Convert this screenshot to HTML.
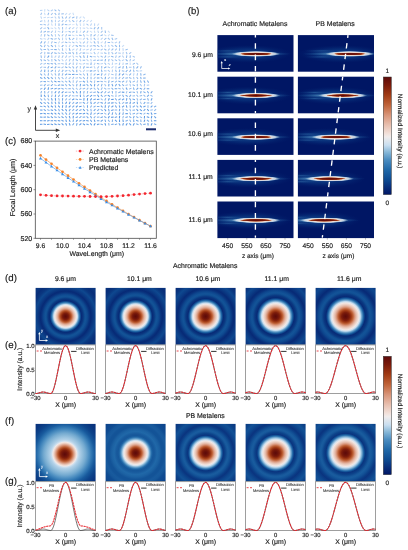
<!DOCTYPE html>
<html><head><meta charset="utf-8"><style>
html,body{margin:0;padding:0;background:#fff;}
svg{display:block;}
text{font-family:"Liberation Sans", Arial, sans-serif;text-rendering:geometricPrecision;}
</style></head><body>
<svg width="408" height="550" viewBox="0 0 408 550">
<defs><radialGradient id="spot" cx="0.5" cy="0.5" r="0.5"><stop offset="0" stop-color="#5c0a0a"/><stop offset="0.5" stop-color="#71150a"/><stop offset="0.78" stop-color="#9a3512"/><stop offset="0.92" stop-color="#c67049" stop-opacity="0.8"/><stop offset="1.0" stop-color="#dda289" stop-opacity="0"/></radialGradient><radialGradient id="halo" cx="0.5" cy="0.5" r="0.5"><stop offset="0" stop-color="#e6bbaa"/><stop offset="0.55" stop-color="#f1e0d9"/><stop offset="0.8" stop-color="#d9e4ee" stop-opacity="0.85"/><stop offset="1.0" stop-color="#9cc4df" stop-opacity="0"/></radialGradient><radialGradient id="tail" cx="0.5" cy="0.5" r="0.5"><stop offset="0" stop-color="#c8def0"/><stop offset="0.5" stop-color="#4f90c2" stop-opacity="0.6"/><stop offset="1" stop-color="#135397" stop-opacity="0"/></radialGradient><radialGradient id="glow" cx="0.5" cy="0.5" r="0.5"><stop offset="0" stop-color="#256cab" stop-opacity="0.7"/><stop offset="0.6" stop-color="#0e488f" stop-opacity="0.35"/><stop offset="1" stop-color="#072a76" stop-opacity="0"/></radialGradient><radialGradient id="streak" cx="0.5" cy="0.5" r="0.5"><stop offset="0" stop-color="#4386bc" stop-opacity="0.8"/><stop offset="1" stop-color="#0c3f88" stop-opacity="0"/></radialGradient><linearGradient id="cbar" x1="0" y1="0" x2="0" y2="1"><stop offset="0.000" stop-color="#5c0a0a"/><stop offset="0.070" stop-color="#7a1a0a"/><stop offset="0.153" stop-color="#a03a14"/><stop offset="0.240" stop-color="#c0643a"/><stop offset="0.323" stop-color="#d89478"/><stop offset="0.410" stop-color="#e8c0b0"/><stop offset="0.485" stop-color="#f2e2dc"/><stop offset="0.510" stop-color="#f0ecec"/><stop offset="0.580" stop-color="#c8def0"/><stop offset="0.638" stop-color="#88b8d8"/><stop offset="0.706" stop-color="#4a8cc0"/><stop offset="0.790" stop-color="#2068a8"/><stop offset="0.876" stop-color="#0e4a90"/><stop offset="0.944" stop-color="#082c78"/><stop offset="1.000" stop-color="#001664"/></linearGradient><radialGradient id="gd0" gradientUnits="userSpaceOnUse" cx="65.60" cy="316.40" r="44.00"><stop offset="0.0000" stop-color="#5c0a0a"/><stop offset="0.0455" stop-color="#6d130a"/><stop offset="0.0750" stop-color="#7f1e0b"/><stop offset="0.1091" stop-color="#a33d17"/><stop offset="0.1386" stop-color="#c0643a"/><stop offset="0.1659" stop-color="#d79276"/><stop offset="0.1909" stop-color="#e4b6a3"/><stop offset="0.2182" stop-color="#edd2c7"/><stop offset="0.2455" stop-color="#f1e8e6"/><stop offset="0.2705" stop-color="#c8def0"/><stop offset="0.2977" stop-color="#629dc9"/><stop offset="0.3250" stop-color="#1e65a5"/><stop offset="0.3432" stop-color="#0d448b"/><stop offset="0.3591" stop-color="#072a76"/><stop offset="0.3977" stop-color="#0a3780"/><stop offset="0.4386" stop-color="#115094"/><stop offset="0.4614" stop-color="#135397"/><stop offset="0.5000" stop-color="#0e488f"/><stop offset="0.5455" stop-color="#09327d"/><stop offset="0.5750" stop-color="#072a76"/><stop offset="0.6364" stop-color="#0b3b84"/><stop offset="0.6932" stop-color="#0e488f"/><stop offset="0.7500" stop-color="#0a3780"/><stop offset="0.8182" stop-color="#082e79"/><stop offset="0.8864" stop-color="#0a3780"/><stop offset="0.9545" stop-color="#09327d"/><stop offset="1" stop-color="#09327d"/></radialGradient><radialGradient id="gf0" gradientUnits="userSpaceOnUse" cx="64.80" cy="454.15" r="44.00"><stop offset="0.0000" stop-color="#5c0a0a"/><stop offset="0.0523" stop-color="#6d130a"/><stop offset="0.0909" stop-color="#7f1e0b"/><stop offset="0.1295" stop-color="#9f3914"/><stop offset="0.1636" stop-color="#bc5f36"/><stop offset="0.1955" stop-color="#d48c6e"/><stop offset="0.2227" stop-color="#e2b19d"/><stop offset="0.2477" stop-color="#edd2c7"/><stop offset="0.2727" stop-color="#f1e8e6"/><stop offset="0.2955" stop-color="#cee0ef"/><stop offset="0.3295" stop-color="#b2d1e8"/><stop offset="0.4091" stop-color="#91bddb"/><stop offset="0.4773" stop-color="#74aad0"/><stop offset="0.5455" stop-color="#4f90c2"/><stop offset="0.6136" stop-color="#2f75b1"/><stop offset="0.6818" stop-color="#185a9d"/><stop offset="0.7727" stop-color="#0d448b"/><stop offset="0.8636" stop-color="#0a3780"/><stop offset="0.9545" stop-color="#09327d"/><stop offset="1" stop-color="#09327d"/></radialGradient><radialGradient id="gd1" gradientUnits="userSpaceOnUse" cx="135.60" cy="316.40" r="46.65"><stop offset="0.0000" stop-color="#5c0a0a"/><stop offset="0.0455" stop-color="#6d130a"/><stop offset="0.0750" stop-color="#7f1e0b"/><stop offset="0.1091" stop-color="#a33d17"/><stop offset="0.1386" stop-color="#c0643a"/><stop offset="0.1659" stop-color="#d79276"/><stop offset="0.1909" stop-color="#e4b6a3"/><stop offset="0.2182" stop-color="#edd2c7"/><stop offset="0.2455" stop-color="#f1e8e6"/><stop offset="0.2705" stop-color="#c8def0"/><stop offset="0.2977" stop-color="#629dc9"/><stop offset="0.3250" stop-color="#1e65a5"/><stop offset="0.3432" stop-color="#0d448b"/><stop offset="0.3591" stop-color="#072a76"/><stop offset="0.3977" stop-color="#0a3780"/><stop offset="0.4386" stop-color="#115094"/><stop offset="0.4614" stop-color="#135397"/><stop offset="0.5000" stop-color="#0e488f"/><stop offset="0.5455" stop-color="#09327d"/><stop offset="0.5750" stop-color="#072a76"/><stop offset="0.6364" stop-color="#0b3b84"/><stop offset="0.6932" stop-color="#0e488f"/><stop offset="0.7500" stop-color="#0a3780"/><stop offset="0.8182" stop-color="#082e79"/><stop offset="0.8864" stop-color="#0a3780"/><stop offset="0.9545" stop-color="#09327d"/><stop offset="1" stop-color="#09327d"/></radialGradient><radialGradient id="gf1" gradientUnits="userSpaceOnUse" cx="135.60" cy="453.05" r="46.65"><stop offset="0.0000" stop-color="#5c0a0a"/><stop offset="0.0455" stop-color="#6d130a"/><stop offset="0.0750" stop-color="#7f1e0b"/><stop offset="0.1091" stop-color="#a33d17"/><stop offset="0.1386" stop-color="#c0643a"/><stop offset="0.1659" stop-color="#d79276"/><stop offset="0.1909" stop-color="#e4b6a3"/><stop offset="0.2182" stop-color="#edd2c7"/><stop offset="0.2455" stop-color="#f1e8e6"/><stop offset="0.2705" stop-color="#cee0ef"/><stop offset="0.2977" stop-color="#7db0d4"/><stop offset="0.3250" stop-color="#3e82b9"/><stop offset="0.3477" stop-color="#1e65a5"/><stop offset="0.3750" stop-color="#16579a"/><stop offset="0.4091" stop-color="#185a9d"/><stop offset="0.4614" stop-color="#2068a8"/><stop offset="0.5114" stop-color="#1c61a2"/><stop offset="0.5682" stop-color="#135397"/><stop offset="0.6136" stop-color="#135397"/><stop offset="0.6591" stop-color="#185a9d"/><stop offset="0.7045" stop-color="#16579a"/><stop offset="0.7500" stop-color="#0f4c92"/><stop offset="0.8182" stop-color="#0e488f"/><stop offset="0.8864" stop-color="#0d448b"/><stop offset="0.9545" stop-color="#0d448b"/><stop offset="1" stop-color="#0d448b"/></radialGradient><radialGradient id="gd2" gradientUnits="userSpaceOnUse" cx="205.60" cy="316.40" r="49.31"><stop offset="0.0000" stop-color="#5c0a0a"/><stop offset="0.0455" stop-color="#6d130a"/><stop offset="0.0750" stop-color="#7f1e0b"/><stop offset="0.1091" stop-color="#a33d17"/><stop offset="0.1386" stop-color="#c0643a"/><stop offset="0.1659" stop-color="#d79276"/><stop offset="0.1909" stop-color="#e4b6a3"/><stop offset="0.2182" stop-color="#edd2c7"/><stop offset="0.2455" stop-color="#f1e8e6"/><stop offset="0.2705" stop-color="#c8def0"/><stop offset="0.2977" stop-color="#629dc9"/><stop offset="0.3250" stop-color="#1e65a5"/><stop offset="0.3432" stop-color="#0d448b"/><stop offset="0.3591" stop-color="#072a76"/><stop offset="0.3977" stop-color="#0a3780"/><stop offset="0.4386" stop-color="#115094"/><stop offset="0.4614" stop-color="#135397"/><stop offset="0.5000" stop-color="#0e488f"/><stop offset="0.5455" stop-color="#09327d"/><stop offset="0.5750" stop-color="#072a76"/><stop offset="0.6364" stop-color="#0b3b84"/><stop offset="0.6932" stop-color="#0e488f"/><stop offset="0.7500" stop-color="#0a3780"/><stop offset="0.8182" stop-color="#082e79"/><stop offset="0.8864" stop-color="#0a3780"/><stop offset="0.9545" stop-color="#09327d"/><stop offset="1" stop-color="#09327d"/></radialGradient><radialGradient id="gf2" gradientUnits="userSpaceOnUse" cx="205.60" cy="453.05" r="49.31"><stop offset="0.0000" stop-color="#5c0a0a"/><stop offset="0.0455" stop-color="#6d130a"/><stop offset="0.0750" stop-color="#7f1e0b"/><stop offset="0.1091" stop-color="#a33d17"/><stop offset="0.1386" stop-color="#c0643a"/><stop offset="0.1659" stop-color="#d79276"/><stop offset="0.1909" stop-color="#e4b6a3"/><stop offset="0.2182" stop-color="#edd2c7"/><stop offset="0.2455" stop-color="#f1e8e6"/><stop offset="0.2705" stop-color="#c8def0"/><stop offset="0.2977" stop-color="#79add2"/><stop offset="0.3250" stop-color="#286eac"/><stop offset="0.3432" stop-color="#104e93"/><stop offset="0.3591" stop-color="#0a347f"/><stop offset="0.3977" stop-color="#0c4289"/><stop offset="0.4386" stop-color="#17589b"/><stop offset="0.4614" stop-color="#195c9e"/><stop offset="0.5000" stop-color="#125196"/><stop offset="0.5455" stop-color="#0b3d86"/><stop offset="0.5750" stop-color="#0a347f"/><stop offset="0.6364" stop-color="#0d468d"/><stop offset="0.6932" stop-color="#125196"/><stop offset="0.7500" stop-color="#0c4289"/><stop offset="0.8182" stop-color="#0b3982"/><stop offset="0.8864" stop-color="#0c4289"/><stop offset="0.9545" stop-color="#0b3d86"/><stop offset="1" stop-color="#0b3d86"/></radialGradient><radialGradient id="gd3" gradientUnits="userSpaceOnUse" cx="275.60" cy="316.40" r="52.00"><stop offset="0.0000" stop-color="#5c0a0a"/><stop offset="0.0455" stop-color="#6d130a"/><stop offset="0.0750" stop-color="#7f1e0b"/><stop offset="0.1091" stop-color="#a33d17"/><stop offset="0.1386" stop-color="#c0643a"/><stop offset="0.1659" stop-color="#d79276"/><stop offset="0.1909" stop-color="#e4b6a3"/><stop offset="0.2182" stop-color="#edd2c7"/><stop offset="0.2455" stop-color="#f1e8e6"/><stop offset="0.2705" stop-color="#c8def0"/><stop offset="0.2977" stop-color="#629dc9"/><stop offset="0.3250" stop-color="#1e65a5"/><stop offset="0.3432" stop-color="#0d448b"/><stop offset="0.3591" stop-color="#072a76"/><stop offset="0.3977" stop-color="#0a3780"/><stop offset="0.4386" stop-color="#115094"/><stop offset="0.4614" stop-color="#135397"/><stop offset="0.5000" stop-color="#0e488f"/><stop offset="0.5455" stop-color="#09327d"/><stop offset="0.5750" stop-color="#072a76"/><stop offset="0.6364" stop-color="#0b3b84"/><stop offset="0.6932" stop-color="#0e488f"/><stop offset="0.7500" stop-color="#0a3780"/><stop offset="0.8182" stop-color="#082e79"/><stop offset="0.8864" stop-color="#0a3780"/><stop offset="0.9545" stop-color="#09327d"/><stop offset="1" stop-color="#09327d"/></radialGradient><radialGradient id="gf3" gradientUnits="userSpaceOnUse" cx="275.60" cy="453.05" r="52.00"><stop offset="0.0000" stop-color="#5c0a0a"/><stop offset="0.0455" stop-color="#6d130a"/><stop offset="0.0750" stop-color="#7f1e0b"/><stop offset="0.1091" stop-color="#a33d17"/><stop offset="0.1386" stop-color="#c0643a"/><stop offset="0.1659" stop-color="#d79276"/><stop offset="0.1909" stop-color="#e4b6a3"/><stop offset="0.2182" stop-color="#edd2c7"/><stop offset="0.2455" stop-color="#f1e8e6"/><stop offset="0.2705" stop-color="#c8def0"/><stop offset="0.2977" stop-color="#79add2"/><stop offset="0.3250" stop-color="#286eac"/><stop offset="0.3432" stop-color="#104e93"/><stop offset="0.3591" stop-color="#0a347f"/><stop offset="0.3977" stop-color="#0c4289"/><stop offset="0.4386" stop-color="#17589b"/><stop offset="0.4614" stop-color="#195c9e"/><stop offset="0.5000" stop-color="#125196"/><stop offset="0.5455" stop-color="#0b3d86"/><stop offset="0.5750" stop-color="#0a347f"/><stop offset="0.6364" stop-color="#0d468d"/><stop offset="0.6932" stop-color="#125196"/><stop offset="0.7500" stop-color="#0c4289"/><stop offset="0.8182" stop-color="#0b3982"/><stop offset="0.8864" stop-color="#0c4289"/><stop offset="0.9545" stop-color="#0b3d86"/><stop offset="1" stop-color="#0b3d86"/></radialGradient><radialGradient id="gd4" gradientUnits="userSpaceOnUse" cx="345.60" cy="316.40" r="54.70"><stop offset="0.0000" stop-color="#5c0a0a"/><stop offset="0.0455" stop-color="#6d130a"/><stop offset="0.0750" stop-color="#7f1e0b"/><stop offset="0.1091" stop-color="#a33d17"/><stop offset="0.1386" stop-color="#c0643a"/><stop offset="0.1659" stop-color="#d79276"/><stop offset="0.1909" stop-color="#e4b6a3"/><stop offset="0.2182" stop-color="#edd2c7"/><stop offset="0.2455" stop-color="#f1e8e6"/><stop offset="0.2705" stop-color="#c8def0"/><stop offset="0.2977" stop-color="#629dc9"/><stop offset="0.3250" stop-color="#1e65a5"/><stop offset="0.3432" stop-color="#0d448b"/><stop offset="0.3591" stop-color="#072a76"/><stop offset="0.3977" stop-color="#0a3780"/><stop offset="0.4386" stop-color="#115094"/><stop offset="0.4614" stop-color="#135397"/><stop offset="0.5000" stop-color="#0e488f"/><stop offset="0.5455" stop-color="#09327d"/><stop offset="0.5750" stop-color="#072a76"/><stop offset="0.6364" stop-color="#0b3b84"/><stop offset="0.6932" stop-color="#0e488f"/><stop offset="0.7500" stop-color="#0a3780"/><stop offset="0.8182" stop-color="#082e79"/><stop offset="0.8864" stop-color="#0a3780"/><stop offset="0.9545" stop-color="#09327d"/><stop offset="1" stop-color="#09327d"/></radialGradient><radialGradient id="gf4" gradientUnits="userSpaceOnUse" cx="345.60" cy="453.05" r="54.70"><stop offset="0.0000" stop-color="#5c0a0a"/><stop offset="0.0455" stop-color="#6d130a"/><stop offset="0.0750" stop-color="#7f1e0b"/><stop offset="0.1091" stop-color="#a33d17"/><stop offset="0.1386" stop-color="#c0643a"/><stop offset="0.1659" stop-color="#d79276"/><stop offset="0.1909" stop-color="#e4b6a3"/><stop offset="0.2182" stop-color="#edd2c7"/><stop offset="0.2455" stop-color="#f1e8e6"/><stop offset="0.2705" stop-color="#c8def0"/><stop offset="0.2977" stop-color="#79add2"/><stop offset="0.3250" stop-color="#286eac"/><stop offset="0.3432" stop-color="#104e93"/><stop offset="0.3591" stop-color="#0a347f"/><stop offset="0.3977" stop-color="#0c4289"/><stop offset="0.4386" stop-color="#17589b"/><stop offset="0.4614" stop-color="#195c9e"/><stop offset="0.5000" stop-color="#125196"/><stop offset="0.5455" stop-color="#0b3d86"/><stop offset="0.5750" stop-color="#0a347f"/><stop offset="0.6364" stop-color="#0d468d"/><stop offset="0.6932" stop-color="#125196"/><stop offset="0.7500" stop-color="#0c4289"/><stop offset="0.8182" stop-color="#0b3982"/><stop offset="0.8864" stop-color="#0c4289"/><stop offset="0.9545" stop-color="#0b3d86"/><stop offset="1" stop-color="#0b3d86"/></radialGradient></defs>
<rect width="408" height="550" fill="#fff"/>
<text x="5.10" y="13.90" font-size="9.5" text-anchor="start" fill="#1a1a1a" stroke="#1a1a1a" stroke-width="0.16" >(a)</text>
<path d="M72.01 24.82l2.47 -0.40" stroke="#4a8ee0" stroke-width="1.05" stroke-linecap="butt" fill="none" opacity="0.2"/>
<path d="M43.56 38.50l2.39 0.72M45.03 22.28l-0.54 -2.44M43.56 17.84l2.40 -0.69M44.36 12.76l0.80 2.37M44.92 9.14l-0.31 2.48M47.91 43.60l0.83 -2.36M47.11 17.80l2.42 -0.61M53.10 28.46l-2.44 -0.56M52.35 25.78l-0.95 -2.31M56.32 29.06l-1.77 -1.77M59.22 47.21l-0.45 -2.46M58.31 43.46l1.37 -2.09M60.20 32.10l-2.39 -0.73M66.35 50.77l-0.47 -2.46M67.35 31.54l-2.47 0.41M65.79 29.39l0.66 -2.41M67.10 13.16l-1.95 1.56M68.46 24.89l2.44 -0.54M70.58 13.08l-1.81 1.73M74.44 35.64l-2.41 -0.68M73.67 15.11l-0.86 -2.35M75.71 41.80l2.17 1.23M78.00 35.65l-2.40 -0.70M76.21 29.28l1.18 -2.21M77.24 19.89l-0.87 2.34M81.60 39.03l-2.48 -0.33M79.88 32.89l0.96 -2.31M80.51 29.42l-0.29 -2.48M80.16 23.39l0.40 2.47M81.30 16.68l-1.88 1.64M82.73 49.93l2.37 -0.78M82.69 27.96l2.46 0.43M84.09 23.38l-0.34 2.48M84.88 18.30l-1.91 -1.61M88.63 35.78l-2.31 -0.96M86.47 27.44l2.02 1.48M88.38 20.19l-1.79 1.74M89.86 52.70l2.37 0.80M92.09 43.10l-2.09 -1.36M89.96 31.12l2.17 1.24M91.80 20.07l-1.52 1.98M94.29 30.53l0.63 2.42M98.79 52.02l-1.26 2.16M98.00 40.10l0.33 -2.48M97.56 36.40l1.20 -2.20M99.00 23.69l-1.68 1.85M100.72 43.16l2.01 -1.49M104.20 34.66l2.15 1.27M109.57 34.28l-1.45 2.04M109.66 32.68l-1.64 -1.88M124.06 45.20l-1.96 1.55M130.17 62.53l0.06 2.50" stroke="#4a8ee0" stroke-width="1.05" stroke-linecap="butt" fill="none" opacity="0.3"/>
<path d="M40.03 38.41l2.33 0.91M41.61 34.12l-0.81 2.36M40.75 16.33l0.89 2.34M42.45 10.27l-2.49 0.21M45.98 27.92l-2.44 0.53M47.51 39.82l1.61 -1.91M47.60 25.65l1.43 -2.05M48.08 22.29l0.48 -2.45M49.34 11.10l-2.04 -1.45M50.66 17.75l2.45 -0.50M52.97 9.77l-2.18 1.22M56.22 55.69l-1.57 1.95M55.14 34.09l0.59 2.43M55.66 30.51l-0.44 2.46M55.44 25.87l-0.00 -2.50M55.46 22.31l-0.04 -2.50M54.73 16.47l1.42 2.06M59.91 50.39l-1.82 -1.71M59.48 29.33l-0.96 -2.31M57.95 21.74l2.10 -1.35M61.79 59.24l1.55 1.96M61.46 43.02l2.19 -1.20M62.63 37.61l-0.15 2.50M66.79 59.16l-1.33 2.12M66.37 47.20l-0.50 -2.45M65.80 37.65l0.65 2.41M65.37 22.06l1.50 -2.00M70.78 56.06l-2.20 1.20M69.13 47.10l1.10 -2.25M68.49 42.03l2.38 0.78M68.99 20.02l1.38 2.08M73.88 57.74l-1.27 -2.15M72.17 50.19l2.14 -1.29M72.30 46.81l1.88 -1.65M72.23 28.91l2.03 -1.47M77.99 57.04l-2.38 -0.77M76.07 50.55l1.46 -2.03M76.97 37.62l-0.33 2.48M76.22 23.51l1.17 2.21M79.50 69.99l1.72 1.81M81.55 64.16l-2.38 -0.76M80.93 61.33l-1.14 -2.22M79.56 41.46l1.59 1.93M84.72 69.94l-1.60 1.92M85.08 63.32l-2.32 0.92M84.84 38.01l-1.84 1.69M84.69 20.08l-1.55 1.96M88.73 70.83l-2.50 0.15M88.44 61.02l-1.93 -1.59M86.23 53.01l2.49 0.19M86.28 49.90l2.40 -0.72M87.89 44.80l-0.82 2.36M88.12 41.34l-1.27 2.15M91.31 61.44l-0.55 -2.44M91.15 40.11l-0.22 -2.49M89.82 27.90l2.44 0.55M91.59 23.50l-1.09 2.25M95.18 68.45l-1.16 -2.22M94.06 64.91l1.08 -2.25M93.37 56.45l2.46 0.42M95.74 49.03l-2.28 1.02M94.56 23.37l0.08 2.50M97.19 55.87l1.93 1.59M99.41 49.51l-2.50 0.06M97.79 30.54l0.73 2.39M100.49 64.03l2.45 -0.49M102.97 53.17l-2.50 -0.13M100.83 39.74l1.78 -1.76M105.03 47.21l0.50 -2.45M108.39 75.63l0.89 -2.34M107.77 63.14l2.14 1.29M109.98 56.14l-2.27 1.04M109.12 47.20l-0.56 -2.44M112.59 69.67l-0.39 2.47M113.31 66.48l-1.82 1.72M112.57 62.54l-0.34 2.48M111.37 41.71l2.06 1.41M116.08 66.10l-0.24 2.49M117.18 63.51l-2.44 0.55M117.10 41.92l-2.29 1.00M122.85 65.01l0.46 -2.46M121.98 60.81l2.20 -1.19M122.31 55.68l1.55 1.97M123.30 51.87l-0.44 2.46M122.98 48.29l0.20 2.49M127.70 75.12l-2.13 -1.31M133.44 75.67l0.64 -2.42M142.13 70.82l-2.50 0.16" stroke="#4a8ee0" stroke-width="1.05" stroke-linecap="butt" fill="none" opacity="0.4"/>
<path d="M40.14 68.00l2.12 -1.33M40.13 64.43l2.13 -1.30M42.13 52.26l-1.86 1.67M42.13 27.34l-1.86 1.67M42.44 24.80l-2.47 -0.35M39.99 21.39l2.41 -0.66M41.78 12.83l-1.15 2.22M43.51 67.30l2.50 0.08M43.59 64.22l2.34 -0.88M45.06 55.45l-0.59 2.43M44.91 51.86l-0.30 2.48M45.95 24.99l-2.39 -0.74M49.55 81.83l-2.45 -0.49M47.35 59.44l1.95 1.56M49.25 46.82l-1.85 -1.68M49.56 31.61l-2.49 0.27M52.63 75.46l-1.50 -2.00M51.84 58.97l0.07 2.50M51.72 55.42l0.31 2.48M53.13 49.54l-2.50 0.00M51.35 43.55l1.06 -2.26M52.64 30.75l-1.51 1.99M52.72 13.01l-1.67 1.86M55.67 79.25l-0.46 -2.46M55.40 72.15l0.09 -2.50M55.78 47.18l-0.69 -2.40M54.28 39.31l2.33 -0.91M58.41 72.00l1.18 -2.20M57.75 67.39l2.50 -0.11M57.75 63.72l2.50 0.12M58.03 59.43l1.93 1.59M59.38 55.47l-0.76 2.38M60.19 53.49l-2.38 -0.77M58.23 37.87l1.53 1.97M58.20 34.34l1.60 1.92M59.94 11.21l-1.87 -1.66M61.50 68.01l2.11 -1.34M61.35 63.47l2.42 0.62M63.19 55.58l-1.26 2.16M63.26 34.26l-1.40 2.07M62.57 29.43l-0.02 -2.50M61.80 22.05l1.52 -1.98M67.29 89.13l-2.34 -0.87M65.61 79.16l1.01 -2.29M66.77 55.59l-1.30 2.14M66.98 54.00l-1.73 -1.81M66.67 34.18l-1.09 2.25M68.70 78.80l1.96 -1.56M68.70 70.12l1.95 1.56M70.20 59.08l-1.04 2.27M68.89 29.15l1.58 -1.94M70.46 16.52l-1.56 1.96M73.97 86.15l-1.47 -2.02M73.17 82.83l0.15 -2.50M73.33 62.53l-0.18 2.49M73.61 59.03l-0.74 2.39M72.12 41.87l2.24 1.11M74.38 31.24l-2.29 1.01M77.67 89.59l-1.75 -1.79M75.57 78.27l2.45 -0.50M77.11 62.57l-0.61 2.42M76.77 32.99l0.05 -2.50M76.99 16.27l-0.39 2.47M79.11 81.68l2.49 -0.21M80.44 66.09l-0.17 2.49M79.36 53.84l2.01 -1.49M79.91 50.70l0.91 -2.33M82.71 45.68l2.43 0.60M84.83 41.57l-1.82 1.71M84.52 36.40l-1.20 -2.19M88.72 63.90l-2.49 -0.24M88.22 39.87l-1.48 -2.02M86.80 32.79l1.36 -2.10M86.49 23.86l1.98 1.53M91.25 73.23l-0.41 2.47M91.62 48.43l-1.16 2.21M92.26 45.72l-2.44 0.53M94.83 80.35l-0.45 2.46M95.44 77.10l-1.69 1.84M93.90 52.07l1.41 2.07M98.49 72.10l-0.67 -2.41M97.36 68.30l1.60 -1.92M98.46 43.63l-0.60 -2.43M100.64 56.03l2.16 1.25M102.74 48.82l-2.05 1.44M102.48 46.97l-1.53 -1.98M102.58 30.84l-1.73 1.81M101.72 26.93l-0.01 2.50M106.00 86.16l-1.45 -2.04M106.44 82.04l-2.32 -0.92M104.41 75.35l1.75 -1.79M104.03 70.81l2.49 0.18M104.87 43.60l0.82 -2.36M110.09 88.67l-2.50 0.06M107.96 78.91l1.76 -1.78M107.84 70.16l2.01 1.49M107.71 66.80l2.25 1.08M108.77 54.35l0.15 -2.50M108.05 50.51l1.57 -1.94M107.93 38.00l1.82 1.72M111.15 77.98l2.50 0.08M111.17 74.25l2.46 0.42M113.34 61.04l-1.89 -1.64M113.20 54.06l-1.59 -1.93M111.37 45.28l2.06 1.41M113.64 35.46l-2.48 -0.33M115.54 57.84l0.84 -2.36M114.90 53.76l2.12 -1.32M115.10 50.45l1.72 -1.81M117.17 38.56l-2.43 0.59M119.20 64.99l0.65 -2.41M120.43 61.08l-1.82 -1.72M118.27 53.03l2.50 0.15M119.58 48.29l-0.12 2.50M119.99 41.26l-0.95 2.31M122.24 87.77l1.67 1.86M127.04 91.08l-0.81 2.37M127.81 84.70l-2.34 0.87M127.30 80.52l-1.31 2.13M126.18 51.94l0.92 2.32M130.53 86.35l-0.66 -2.41M128.95 67.35l2.50 -0.01M130.55 59.02l-0.70 2.40M131.25 52.42l-2.10 1.36M133.99 79.25l-0.46 -2.46M134.87 59.64l-2.21 1.16M134.88 57.21l-2.24 -1.10M136.89 82.75l0.86 -2.35M137.63 73.25l-0.62 2.42M136.14 70.49l2.36 0.81M138.24 64.63l-1.83 -1.70M141.49 104.03l-1.23 -2.18M140.18 84.10l1.39 2.08M144.69 83.92l-0.50 2.45M149.23 84.94l-2.47 0.41" stroke="#4a8ee0" stroke-width="1.05" stroke-linecap="butt" fill="none" opacity="0.5"/>
<path d="M42.34 88.18l-2.28 1.03M42.45 85.07l-2.50 0.15M42.38 81.16l-2.35 0.85M40.65 72.02l1.09 -2.25M40.66 59.09l1.08 2.25M40.93 55.44l0.54 2.44M42.14 50.36l-1.88 -1.65M42.17 46.77l-1.94 -1.58M41.56 30.54l-0.73 2.39M43.93 98.45l1.67 1.86M45.49 75.47l-1.46 -2.03M43.64 59.66l2.23 1.12M46.01 49.56l-2.50 -0.05M44.29 47.14l0.94 -2.32M44.09 43.47l1.34 -2.11M45.00 34.07l-0.48 2.45M45.94 31.33l-2.36 0.83M47.48 98.46l1.68 1.85M49.07 91.26l-1.50 2.00M49.50 84.74l-2.37 0.80M48.27 72.15l0.09 -2.50M49.15 50.48l-1.65 -1.88M47.27 34.62l2.09 1.37M48.80 12.79l-0.96 2.31M52.21 94.61l-0.66 2.41M51.97 91.01l-0.17 2.49M52.66 52.13l-1.57 1.95M51.20 34.25l1.35 2.10M52.11 22.29l-0.46 -2.46M56.59 85.63l-2.30 -0.98M56.05 75.55l-1.22 -2.18M54.21 42.19l2.46 0.47M54.67 12.96l1.55 1.96M56.36 11.22l-1.85 -1.68M58.63 98.19l0.74 2.39M59.56 79.14l-1.13 -2.23M58.93 25.87l0.14 -2.50M58.66 16.30l0.68 2.41M59.20 12.71l-0.40 2.47M63.58 82.31l-2.04 -1.45M63.47 78.88l-1.81 -1.72M62.09 75.62l0.94 -2.31M61.82 71.91l1.48 -2.01M63.77 53.42l-2.42 -0.64M62.74 50.78l-0.36 -2.47M62.90 30.54l-0.67 2.41M61.66 25.49l1.80 -1.74M61.99 16.39l1.13 2.23M63.80 13.81l-2.49 0.25M66.83 98.35l-1.42 2.06M66.88 86.13l-1.52 -1.99M67.15 82.29l-2.06 -1.42M64.91 71.20l2.43 -0.60M66.11 62.53l0.02 2.50M64.93 42.04l2.38 0.75M64.87 24.58l2.50 0.09M66.74 16.42l-1.24 2.17M70.68 98.63l-2.01 1.49M70.93 92.29l-2.50 -0.07M70.93 88.79l-2.49 -0.18M68.63 66.67l2.10 1.35M70.47 62.81l-1.58 1.94M70.93 35.22l-2.50 0.16M70.78 32.33l-2.21 -1.18M74.49 95.92l-2.49 -0.20M74.10 89.61l-1.72 -1.82M72.69 79.14l1.10 -2.25M72.40 69.98l1.69 1.84M72.56 66.29l1.36 2.10M73.83 54.20l-1.18 -2.20M74.27 38.15l-2.06 1.42M72.18 20.40l2.12 1.32M74.40 17.04l-2.32 0.93M78.05 95.89l-2.50 -0.14M76.17 82.66l1.26 -2.16M75.55 74.52l2.50 -0.12M77.47 66.29l-1.35 2.10M77.81 60.95l-2.02 -1.47M76.92 54.34l-0.25 -2.49M81.61 102.85l-2.49 0.18M79.51 89.61l1.71 -1.83M79.19 77.59l2.35 0.86M79.27 73.85l2.18 1.22M81.60 35.49l-2.47 -0.38M81.09 20.04l-1.45 2.04M84.44 107.64l-1.03 -2.28M84.23 97.03l-0.62 -2.42M82.73 89.07l2.39 -0.74M83.02 77.15l1.79 1.74M83.16 73.47l1.52 1.98M85.17 60.20l-2.50 0.04M83.00 32.58l1.85 -1.68M86.92 104.06l1.12 -2.24M87.26 93.49l0.45 -2.46M86.69 89.67l1.59 -1.93M87.09 80.39l0.78 2.38M87.66 76.78l-0.36 2.47M88.73 67.39l-2.50 -0.10M87.37 57.90l0.23 -2.49M89.82 92.54l2.44 -0.56M90.99 76.77l0.11 2.50M92.26 67.07l-2.44 0.54M90.91 36.54l0.27 -2.49M93.78 87.76l1.64 1.89M95.45 73.54l-1.69 1.84M95.80 70.55l-2.40 0.71M93.37 60.47l2.45 -0.49M95.28 43.47l-1.36 -2.10M95.46 39.77l-1.71 -1.82M93.63 36.09l1.94 -1.57M95.25 27.11l-1.31 2.13M97.07 103.56l2.17 -1.24M98.91 84.14l-1.49 2.01M96.93 63.54l2.45 0.47M96.95 60.52l2.43 -0.60M98.80 27.11l-1.29 2.14M100.81 98.52l1.82 1.72M102.34 87.61l-1.24 2.17M102.96 81.77l-2.47 -0.38M102.56 78.95l-1.68 -1.85M101.70 68.59l0.04 -2.50M100.48 60.39l2.48 -0.35M100.56 35.77l2.32 -0.93M104.27 112.88l2.01 1.48M106.29 89.44l-2.01 -1.48M104.57 62.75l1.42 2.06M105.97 55.62l-1.38 2.08M106.48 53.46l-2.39 -0.72M106.31 50.25l-2.06 -1.41M104.24 39.56l2.07 -1.40M105.14 30.50l0.29 2.48M109.98 91.74l-2.28 1.04M109.10 59.00l-0.52 2.45M107.59 42.41l2.50 0.03M113.58 96.23l-2.36 -0.82M111.51 50.42l1.78 -1.75M111.83 37.75l1.15 2.22M117.12 103.41l-2.32 -0.93M115.90 97.07l0.12 -2.50M115.89 93.51l0.14 -2.50M114.95 82.31l2.02 -1.47M116.09 73.22l-0.26 2.49M115.53 69.73l0.87 2.34M117.04 60.84l-2.17 -1.24M114.96 45.22l1.99 1.51M118.37 96.32l2.29 -1.00M118.34 88.29l2.36 0.83M120.15 76.94l-1.27 2.15M119.77 69.67l-0.50 2.45M118.54 57.44l1.95 -1.56M119.47 44.73l0.10 2.50M122.67 118.36l0.83 -2.36M122.03 103.61l2.10 -1.35M124.02 77.20l-1.89 1.64M124.31 71.15l-2.45 -0.49M125.40 63.92l2.48 -0.29M126.89 55.43l-0.50 2.45M127.82 49.12l-2.35 0.84M129.68 112.48l1.04 2.27M129.79 108.88l0.82 2.36M131.37 88.27l-2.35 0.86M131.39 78.41l-2.37 -0.79M130.39 55.42l-0.38 2.47M135.00 95.65l-2.48 0.34M132.63 82.11l2.26 -1.06M133.46 69.69l0.60 2.43M133.51 66.12l0.50 2.45M134.85 63.17l-2.18 1.23M138.42 113.03l-2.21 1.17M137.85 100.51l-1.06 -2.26M138.11 96.79l-1.58 -1.94M137.69 93.45l-0.75 -2.39M137.41 86.39l-0.18 -2.49M136.66 76.96l1.31 2.13M142.00 117.74l-2.24 -1.12M139.80 100.01l2.16 -1.26M139.65 96.05l2.46 -0.47M141.43 66.22l-1.10 2.25M143.48 114.42l1.92 -1.60M143.53 94.96l1.82 1.71M145.58 73.96l-2.29 1.01M148.00 105.25l0.01 2.50M146.75 103.01l2.50 -0.13M152.78 109.79l-2.44 0.53M152.34 101.96l-1.55 1.96M152.69 96.35l-2.26 -1.07M156.08 109.26l-1.92 1.61" stroke="#4a8ee0" stroke-width="1.05" stroke-linecap="butt" fill="none" opacity="0.6"/>
<path d="M39.99 106.19l2.42 0.63M40.31 98.50l1.77 1.76M41.58 91.07l-0.77 2.38M42.07 75.36l-1.74 -1.79M40.53 43.48l1.34 -2.11M44.64 91.02l0.24 2.49M45.56 84.18l-1.59 1.93M47.15 109.62l2.34 0.87M48.08 94.59l0.48 2.45M48.09 75.69l0.46 -2.46M47.65 68.39l1.34 -2.11M47.10 63.50l2.44 0.56M49.57 53.11l-2.50 -0.02M49.02 29.22l-1.39 -2.08M52.73 82.49l-1.71 -1.83M52.89 78.75l-2.03 -1.46M50.77 71.47l2.23 -1.14M50.65 63.55l2.46 0.47M52.86 46.76l-1.96 -1.56M50.68 38.51l2.40 0.70M54.65 68.31l1.58 -1.93M54.62 62.83l1.63 1.89M54.45 59.45l1.97 1.54M56.63 53.50l-2.37 -0.79M56.69 49.64l-2.49 -0.19M57.89 116.60l2.22 1.16M58.51 108.91l0.97 2.30M59.71 94.79l-1.41 2.06M61.70 112.72l1.73 1.81M62.36 101.71l0.41 2.47M62.94 94.63l-0.76 2.38M63.70 89.20l-2.29 -1.01M61.74 46.92l1.65 -1.88M65.40 116.16l1.44 2.04M67.33 91.96l-2.43 0.61M64.97 66.85l2.30 0.99M70.26 112.51l-1.15 2.22M70.52 94.89l-1.67 1.86M68.43 74.39l2.50 0.14M70.93 53.12l-2.50 -0.05M70.14 50.70l-0.91 -2.33M69.04 37.79l1.29 2.14M74.09 109.15l-1.70 1.83M74.03 101.97l-1.57 1.94M77.98 99.80l-2.36 -0.83M76.54 86.36l0.53 -2.44M76.79 69.65l0.01 2.50M75.66 45.47l2.28 1.03M81.60 99.51l-2.49 -0.26M81.19 57.59l-1.67 -1.86M79.17 45.61l2.39 0.74M83.70 93.49l0.44 -2.46M84.43 66.20l-1.01 2.28M84.29 57.85l-0.74 -2.39M82.67 53.14l2.50 -0.07M88.18 111.09l-1.41 -2.07M86.61 84.24l1.74 1.79M87.21 73.24l0.54 2.44M91.28 111.29l-0.48 -2.45M90.46 107.61l1.16 -2.22M89.92 89.26l2.23 -1.13M89.98 80.92l2.12 1.33M90.89 65.02l0.31 -2.48M89.87 56.22l2.34 0.89M93.79 118.14l1.61 -1.91M93.61 114.38l1.99 -1.51M93.56 107.19l2.09 -1.37M93.35 95.80l2.50 0.03M93.39 92.57l2.42 -0.61M95.79 46.36l-2.38 -0.75M96.92 117.30l2.49 -0.24M97.20 110.86l1.92 -1.60M96.91 106.59l2.49 -0.18M97.42 87.69l1.48 2.01M99.41 81.52l-2.50 0.11M99.25 46.59l-2.19 -1.21M100.53 123.91l2.38 0.77M100.67 109.39l2.10 1.35M102.11 83.95l-0.79 2.37M101.28 75.63l0.87 -2.34M102.03 72.11l-0.63 -2.42M104.19 116.56l2.17 1.24M105.75 101.78l-0.95 2.31M105.79 98.24l-1.02 2.28M106.41 95.28l-2.25 1.08M106.02 91.25l-1.48 2.01M104.17 67.91l2.23 -1.13M105.53 59.00l-0.50 2.45M108.63 123.07l0.42 2.46M108.09 119.74l1.50 2.00M108.53 82.79l0.62 -2.42M113.64 124.13l-2.48 0.33M112.55 119.50l-0.29 2.48M112.59 93.50l-0.37 -2.47M113.29 89.58l-1.78 -1.76M111.24 82.03l2.33 -0.91M113.55 57.14l-2.31 -0.97M116.56 114.72l-1.20 -2.19M117.21 110.10l-2.50 -0.07M116.82 100.29l-1.71 -1.82M114.71 88.61l2.49 0.19M115.98 76.77l-0.04 2.50M120.01 104.09l-0.98 -2.30M118.39 92.79l2.27 -1.06M118.37 81.08l2.29 1.00M120.62 66.75l-2.21 1.18M123.13 111.31l-0.11 -2.50M122.55 94.69l1.06 2.27M122.17 84.28l1.82 1.71M124.14 80.92l-2.13 1.31M122.76 68.55l0.63 -2.42M125.52 121.29l2.25 -1.10M125.59 109.38l2.09 1.37M127.86 77.73l-2.43 0.59M125.77 71.79l1.75 -1.79M126.87 68.57l-0.46 -2.46M125.72 59.38l1.85 1.68M129.63 119.63l1.15 2.22M129.12 116.55l2.16 1.27M130.08 105.26l0.25 2.49M130.97 94.84l-1.54 1.97M130.76 82.70l-1.12 -2.23M129.38 75.41l1.63 -1.89M129.56 71.98l1.27 -2.15M134.97 113.29l-2.41 0.65M135.00 109.92l-2.48 0.28M134.80 105.81l-2.09 1.38M135.00 92.44l-2.47 -0.36M134.16 89.88l-0.80 -2.37M134.91 85.63l-2.30 -0.98M138.49 124.75l-2.34 -0.89M138.34 117.90l-2.04 -1.45M138.16 107.43l-1.68 -1.85M138.15 66.41l-1.66 1.87M141.62 125.31l-1.48 -2.02M141.03 121.98l-0.29 -2.48M140.45 80.41l0.86 2.35M140.60 76.80l0.56 2.44M140.67 73.23l0.41 2.47M143.20 124.49l2.47 -0.37M143.20 99.57l2.47 -0.38M145.19 87.70l-1.50 2.00M145.69 77.93l-2.49 0.19M146.97 120.03l2.05 1.43M147.52 98.23l0.97 2.31M148.71 82.61l-1.41 -2.06M151.18 119.55l0.76 2.38M156.28 124.76l-2.33 -0.91" stroke="#4a8ee0" stroke-width="1.05" stroke-linecap="butt" fill="none" opacity="0.7"/>
<path d="M39.95 124.39l2.49 -0.18M39.96 120.62l2.49 0.23M39.95 109.99l2.50 0.15M42.36 78.48l-2.32 -0.93M43.72 109.36l2.07 1.39M43.64 102.39l2.24 1.10M46.00 81.75l-2.48 -0.35M45.42 79.08l-1.31 -2.13M44.63 72.14l0.26 -2.49M47.11 116.88l2.43 0.61M47.08 113.45l2.48 0.34M47.51 101.99l1.62 1.91M49.08 55.67l-1.52 1.98M51.66 101.71l0.45 2.46M53.08 88.34l-2.40 0.71M52.88 84.39l-2.01 1.49M50.73 67.82l2.31 -0.96M54.24 116.84l2.40 0.69M55.04 105.32l0.80 2.37M55.06 101.75l0.77 2.38M55.65 94.59l-0.42 2.46M57.80 123.96l2.40 0.69M60.22 88.44l-2.44 0.53M60.16 84.68l-2.33 0.91M60.25 81.69l-2.49 -0.22M58.69 75.67l0.62 -2.42M61.45 120.16l2.22 1.16M62.72 98.14l-0.31 2.48M65.42 112.58l1.40 2.07M67.31 95.44l-2.38 0.76M65.05 75.10l2.15 -1.28M70.30 108.98l-1.24 2.17M70.61 85.98l-1.86 -1.68M70.53 82.50l-1.70 -1.83M73.99 123.30l-1.50 2.00M73.53 119.52l-0.58 2.43M74.22 112.85l-1.97 1.54M74.18 105.68l-1.88 1.65M71.99 74.55l2.49 -0.17M77.12 123.09l-0.64 2.42M77.83 109.35l-2.06 1.42M77.43 93.34l-1.26 -2.16M81.50 120.22l-2.27 1.04M81.35 116.41l-1.97 1.53M81.46 109.47l-2.20 1.18M80.10 86.36l0.52 -2.44M85.17 117.10l-2.50 0.16M85.00 103.57l-2.16 -1.25M82.67 85.15l2.50 -0.01M82.85 80.94l2.15 1.28M88.67 124.68l-2.38 -0.76M88.36 118.07l-1.75 -1.78M87.51 107.75l-0.05 -2.50M91.60 118.30l-1.11 -2.24M90.27 84.15l1.54 1.97M92.27 70.69l-2.46 0.43M93.75 110.97l1.71 -1.82M93.59 103.68l2.02 -1.47M93.42 99.80l2.36 -0.83M94.80 83.91l-0.40 2.47M96.96 124.63l2.41 -0.67M96.91 120.81l2.50 -0.13M97.14 91.53l2.03 1.45M99.41 78.04l-2.50 -0.03M99.38 74.18l-2.44 0.56M100.70 121.46l2.05 -1.43M100.57 117.66l2.31 -0.97M100.48 113.77l2.48 -0.30M100.87 105.59l1.71 1.82M100.89 94.89l1.66 1.87M102.67 91.44l-1.90 1.63M104.87 119.56l0.82 2.36M105.05 79.25l0.47 -2.46M108.50 108.86l0.68 2.41M108.67 86.38l0.33 -2.48M112.75 112.42l-0.71 2.40M113.39 105.74l-1.99 1.51M112.90 86.29l-1.00 -2.29M117.14 123.88l-2.36 0.84M117.14 116.77l-2.36 0.82M115.39 86.25l1.13 -2.23M120.20 125.35l-1.36 -2.10M119.33 111.29l0.39 -2.47M119.82 107.71l-0.60 -2.43M118.40 99.93l2.25 -1.09M118.73 84.17l1.58 1.93M120.14 73.38l-1.25 2.17M122.72 114.82l0.72 -2.39M122.10 107.28l1.96 -1.56M122.01 100.02l2.14 -1.29M121.84 92.12l2.48 0.27M124.07 73.69l-1.98 1.53M125.47 117.61l2.35 -0.86M125.39 113.63l2.50 -0.02M126.87 98.15l-0.46 2.46M125.59 95.14l2.10 1.35M126.02 87.62l1.25 2.17M129.52 98.33l1.35 2.10M131.44 92.07l-2.47 0.37M133.63 119.50l0.25 2.49M134.23 116.02l-0.94 2.32M134.98 99.66l-2.44 -0.56M138.49 121.18l-2.34 -0.87M137.51 104.17l-0.39 -2.47M136.43 89.58l1.77 -1.76M142.09 113.93l-2.42 -0.62M140.61 93.48l0.54 -2.44M139.79 88.09l2.18 1.22M143.58 110.97l1.72 -1.81M143.33 107.07l2.23 -1.13M143.67 103.92l1.55 -1.96M143.37 91.61l2.14 1.30M143.82 80.49l1.24 2.17M146.79 113.30l2.41 0.65M148.91 94.97l-1.83 1.71M147.25 91.26l1.50 2.00M149.25 88.67l-2.50 0.06M152.44 105.61l-1.76 1.78M152.09 98.25l-1.05 2.27M152.34 91.28l-1.55 1.96M156.06 118.01l-1.87 -1.66M156.36 113.43l-2.47 0.37M156.19 105.86l-2.14 1.29" stroke="#4a8ee0" stroke-width="1.05" stroke-linecap="butt" fill="none" opacity="0.8"/>
<path d="M39.96 117.04l2.49 0.27M39.95 113.69l2.50 -0.14M40.28 102.09l1.83 1.70M41.17 94.57l0.07 2.50M43.53 124.08l2.46 0.45M43.51 120.70l2.50 0.08M43.52 117.34l2.48 -0.31M43.57 113.24l2.38 0.77M43.66 105.90l2.19 1.20M44.14 94.73l1.23 2.18M45.43 87.65l-1.35 2.11M47.08 124.45l2.48 -0.30M47.08 120.92l2.47 -0.36M47.55 105.52l1.54 1.97M48.64 87.49l-0.63 2.42M49.25 78.86l-1.86 -1.67M50.68 123.94l2.39 0.72M50.63 120.77l2.50 -0.06M50.81 116.53l2.14 1.30M50.83 112.95l2.11 1.35M50.70 109.65l2.36 0.81M50.87 105.76l2.01 1.48M51.44 98.21l0.88 2.34M54.29 123.82l2.31 0.96M54.20 120.59l2.48 0.31M54.53 112.77l1.82 1.71M54.54 109.20l1.81 1.73M55.31 98.14l0.27 2.49M56.11 91.21l-1.35 2.10M56.62 88.28l-2.35 0.85M56.55 82.16l-2.21 -1.16M57.79 120.43l2.42 0.63M58.05 112.81l1.91 1.61M58.15 105.58l1.70 1.84M58.82 101.70l0.36 2.47M59.43 91.09l-0.85 2.35M61.63 123.46l1.86 1.67M61.50 116.52l2.12 1.32M61.70 109.15l1.72 1.81M62.71 105.26l-0.30 2.48M63.44 91.37l-1.76 1.77M63.81 85.20l-2.50 -0.12M65.63 123.15l0.98 2.30M65.75 119.55l0.74 2.39M65.55 108.95l1.14 2.22M66.29 105.26l-0.34 2.48M66.66 101.81l-1.08 2.25M69.19 123.15l0.97 2.30M69.22 119.58l0.92 2.32M69.22 116.02l0.92 2.32M70.57 105.63l-1.79 1.75M70.15 101.78l-0.94 2.32M73.40 115.94l-0.32 2.48M74.29 98.70l-2.10 1.35M73.98 93.27l-1.47 -2.02M77.61 119.79l-1.62 1.91M77.97 116.73l-2.33 0.90M77.86 112.96l-2.12 1.32M77.61 105.55l-1.63 1.90M77.94 102.44l-2.29 1.01M81.34 123.53l-1.96 1.55M81.61 113.54l-2.49 0.16M81.58 106.22l-2.44 0.56M80.50 97.06l-0.28 -2.48M80.28 93.51l0.16 -2.50M84.96 124.99l-2.09 -1.38M85.15 120.50l-2.46 0.47M85.11 113.23l-2.37 0.78M84.69 111.04l-1.54 -1.97M83.74 100.62l0.36 -2.47M88.70 121.01l-2.44 -0.53M88.45 114.41l-1.94 -1.58M87.38 100.63l0.21 -2.49M86.50 96.60l1.96 -1.55M91.76 125.32l-1.43 -2.05M91.73 121.78l-1.38 -2.09M90.67 114.81l0.74 -2.39M91.34 104.15l-0.60 -2.43M90.33 100.41l1.41 -2.06M90.06 96.60l1.96 -1.55M93.93 125.35l1.34 -2.11M94.99 121.93l-0.79 -2.37M97.02 114.14l2.28 -1.04M96.91 99.46l2.49 -0.16M97.52 94.75l1.28 2.15M100.53 102.55l2.38 0.78M104.85 123.13l0.86 2.35M104.54 109.05l1.47 2.02M105.43 105.26l-0.30 2.48M109.40 116.06l-1.13 2.23M109.53 112.58l-1.38 2.09M109.32 105.35l-0.96 2.31M110.07 102.69l-2.45 0.49M109.34 98.23l-1.00 2.29M109.89 96.50l-2.10 -1.35M113.64 117.01l-2.48 0.35M113.58 109.66l-2.37 0.81M113.64 102.76l-2.47 0.36M113.65 99.36l-2.50 0.05M116.91 121.55l-1.90 -1.62M116.52 107.62l-1.12 -2.23M119.55 121.99l-0.06 -2.50M119.35 118.42l0.33 -2.48M119.06 114.78l0.93 -2.32M122.68 125.49l0.79 -2.37M123.27 121.98l-0.37 -2.47M125.96 125.35l1.35 -2.10M126.29 105.30l0.70 2.40M125.41 103.14l2.47 -0.40M129.37 123.36l1.66 1.87M130.48 101.72l-0.56 2.44M134.37 123.21l-1.22 2.18M134.93 102.51l-2.35 0.86M138.10 111.03l-1.57 -1.95M141.88 110.81l-2.00 -1.49M141.80 107.35l-1.83 -1.70M144.03 121.92l0.81 -2.37M144.35 118.43l0.18 -2.49M147.83 123.06l0.34 2.48M146.80 116.84l2.40 0.69M147.24 109.07l1.52 1.98M152.11 123.18l-1.10 2.25M151.85 115.96l-0.57 2.43M150.97 112.52l1.18 2.21M156.37 120.66l-2.49 0.16" stroke="#4a8ee0" stroke-width="1.05" stroke-linecap="butt" fill="none" opacity="0.9"/>
<path d="M35.5 130.3V108.5M35.5 130.3H57" stroke="#333" stroke-width="0.9" fill="none"/>
<path d="M35.5 105.2L33.8 109.6L37.2 109.6Z M60.2 130.3L55.8 128.6L55.8 132Z" fill="#333"/>
<text x="27.60" y="111.20" font-size="7" text-anchor="start" fill="#333" stroke="#333" stroke-width="0.16" >y</text>
<text x="55.80" y="137.80" font-size="7" text-anchor="start" fill="#333" stroke="#333" stroke-width="0.16" >x</text>
<rect x="146" y="128.3" width="10" height="2" fill="#1b2a6b"/>
<text x="187.80" y="13.90" font-size="9.5" text-anchor="start" fill="#1a1a1a" stroke="#1a1a1a" stroke-width="0.16" >(b)</text>
<text x="255.00" y="26.20" font-size="6.95" text-anchor="middle" fill="#1a1a1a" stroke="#1a1a1a" stroke-width="0.16" >Achromatic Metalens</text>
<text x="335.10" y="26.40" font-size="6.9" text-anchor="middle" fill="#1a1a1a" stroke="#1a1a1a" stroke-width="0.16" >PB Metalens</text>
<text x="212.80" y="57.45" font-size="6.8" text-anchor="end" fill="#1a1a1a" stroke="#1a1a1a" stroke-width="0.16" >9.6 μm</text>
<rect x="217.4" y="35.10" width="76.1" height="36.6" fill="#001664"/>
<clipPath id="cb00"><rect x="217.4" y="35.10" width="76.1" height="36.6"/></clipPath>
<g clip-path="url(#cb00)">
<ellipse cx="248.0" cy="53.90" rx="44" ry="9" fill="url(#glow)"/>
<ellipse cx="228.0" cy="50.90" rx="18" ry="1.6" fill="url(#streak)" opacity="0.55"/>
<ellipse cx="228.0" cy="56.90" rx="18" ry="1.6" fill="url(#streak)" opacity="0.55"/>
<ellipse cx="250.0" cy="53.90" rx="42" ry="2.4" fill="url(#tail)" opacity="0.9"/>
<ellipse cx="256.0" cy="53.90" rx="24.5" ry="2.9" fill="url(#halo)"/>
<ellipse cx="256.0" cy="53.90" rx="16.5" ry="1.45" fill="url(#spot)"/>
</g>
<rect x="297.9" y="35.10" width="76.1" height="36.6" fill="#001664"/>
<clipPath id="cb01"><rect x="297.9" y="35.10" width="76.1" height="36.6"/></clipPath>
<g clip-path="url(#cb01)">
<ellipse cx="341.7" cy="53.90" rx="44" ry="9" fill="url(#glow)"/>
<ellipse cx="321.7" cy="50.90" rx="18" ry="1.6" fill="url(#streak)" opacity="0.55"/>
<ellipse cx="321.7" cy="56.90" rx="18" ry="1.6" fill="url(#streak)" opacity="0.55"/>
<ellipse cx="343.7" cy="53.90" rx="42" ry="2.4" fill="url(#tail)" opacity="0.9"/>
<ellipse cx="349.7" cy="53.90" rx="24.5" ry="2.9" fill="url(#halo)"/>
<ellipse cx="349.7" cy="53.90" rx="16.5" ry="1.45" fill="url(#spot)"/>
</g>
<text x="212.80" y="97.05" font-size="6.8" text-anchor="end" fill="#1a1a1a" stroke="#1a1a1a" stroke-width="0.16" >10.1 μm</text>
<rect x="217.4" y="76.70" width="76.1" height="36.6" fill="#001664"/>
<clipPath id="cb10"><rect x="217.4" y="76.70" width="76.1" height="36.6"/></clipPath>
<g clip-path="url(#cb10)">
<ellipse cx="248.0" cy="95.50" rx="44" ry="9" fill="url(#glow)"/>
<ellipse cx="228.0" cy="92.50" rx="18" ry="1.6" fill="url(#streak)" opacity="0.55"/>
<ellipse cx="228.0" cy="98.50" rx="18" ry="1.6" fill="url(#streak)" opacity="0.55"/>
<ellipse cx="250.0" cy="95.50" rx="42" ry="2.4" fill="url(#tail)" opacity="0.9"/>
<ellipse cx="256.0" cy="95.50" rx="24.5" ry="2.9" fill="url(#halo)"/>
<ellipse cx="256.0" cy="95.50" rx="16.5" ry="1.45" fill="url(#spot)"/>
</g>
<rect x="297.9" y="76.70" width="76.1" height="36.6" fill="#001664"/>
<clipPath id="cb11"><rect x="297.9" y="76.70" width="76.1" height="36.6"/></clipPath>
<g clip-path="url(#cb11)">
<ellipse cx="334.7" cy="95.50" rx="44" ry="9" fill="url(#glow)"/>
<ellipse cx="314.7" cy="92.50" rx="18" ry="1.6" fill="url(#streak)" opacity="0.55"/>
<ellipse cx="314.7" cy="98.50" rx="18" ry="1.6" fill="url(#streak)" opacity="0.55"/>
<ellipse cx="336.7" cy="95.50" rx="42" ry="2.4" fill="url(#tail)" opacity="0.9"/>
<ellipse cx="342.7" cy="95.50" rx="24.5" ry="2.9" fill="url(#halo)"/>
<ellipse cx="342.7" cy="95.50" rx="16.5" ry="1.45" fill="url(#spot)"/>
</g>
<text x="212.80" y="135.85" font-size="6.8" text-anchor="end" fill="#1a1a1a" stroke="#1a1a1a" stroke-width="0.16" >10.6 μm</text>
<rect x="217.4" y="118.30" width="76.1" height="36.6" fill="#001664"/>
<clipPath id="cb20"><rect x="217.4" y="118.30" width="76.1" height="36.6"/></clipPath>
<g clip-path="url(#cb20)">
<ellipse cx="248.0" cy="137.10" rx="44" ry="9" fill="url(#glow)"/>
<ellipse cx="228.0" cy="134.10" rx="18" ry="1.6" fill="url(#streak)" opacity="0.55"/>
<ellipse cx="228.0" cy="140.10" rx="18" ry="1.6" fill="url(#streak)" opacity="0.55"/>
<ellipse cx="250.0" cy="137.10" rx="42" ry="2.4" fill="url(#tail)" opacity="0.9"/>
<ellipse cx="256.0" cy="137.10" rx="24.5" ry="2.9" fill="url(#halo)"/>
<ellipse cx="256.0" cy="137.10" rx="16.5" ry="1.45" fill="url(#spot)"/>
</g>
<rect x="297.9" y="118.30" width="76.1" height="36.6" fill="#001664"/>
<clipPath id="cb21"><rect x="297.9" y="118.30" width="76.1" height="36.6"/></clipPath>
<g clip-path="url(#cb21)">
<ellipse cx="327.8" cy="137.10" rx="44" ry="9" fill="url(#glow)"/>
<ellipse cx="307.8" cy="134.10" rx="18" ry="1.6" fill="url(#streak)" opacity="0.55"/>
<ellipse cx="307.8" cy="140.10" rx="18" ry="1.6" fill="url(#streak)" opacity="0.55"/>
<ellipse cx="329.8" cy="137.10" rx="42" ry="2.4" fill="url(#tail)" opacity="0.9"/>
<ellipse cx="335.8" cy="137.10" rx="24.5" ry="2.9" fill="url(#halo)"/>
<ellipse cx="335.8" cy="137.10" rx="16.5" ry="1.45" fill="url(#spot)"/>
</g>
<text x="212.80" y="179.45" font-size="6.8" text-anchor="end" fill="#1a1a1a" stroke="#1a1a1a" stroke-width="0.16" >11.1 μm</text>
<rect x="217.4" y="159.90" width="76.1" height="36.6" fill="#001664"/>
<clipPath id="cb30"><rect x="217.4" y="159.90" width="76.1" height="36.6"/></clipPath>
<g clip-path="url(#cb30)">
<ellipse cx="248.0" cy="178.70" rx="44" ry="9" fill="url(#glow)"/>
<ellipse cx="228.0" cy="175.70" rx="18" ry="1.6" fill="url(#streak)" opacity="0.55"/>
<ellipse cx="228.0" cy="181.70" rx="18" ry="1.6" fill="url(#streak)" opacity="0.55"/>
<ellipse cx="250.0" cy="178.70" rx="42" ry="2.4" fill="url(#tail)" opacity="0.9"/>
<ellipse cx="256.0" cy="178.70" rx="24.5" ry="2.9" fill="url(#halo)"/>
<ellipse cx="256.0" cy="178.70" rx="16.5" ry="1.45" fill="url(#spot)"/>
</g>
<rect x="297.9" y="159.90" width="76.1" height="36.6" fill="#001664"/>
<clipPath id="cb31"><rect x="297.9" y="159.90" width="76.1" height="36.6"/></clipPath>
<g clip-path="url(#cb31)">
<ellipse cx="321.5" cy="178.70" rx="44" ry="9" fill="url(#glow)"/>
<ellipse cx="301.5" cy="175.70" rx="18" ry="1.6" fill="url(#streak)" opacity="0.55"/>
<ellipse cx="301.5" cy="181.70" rx="18" ry="1.6" fill="url(#streak)" opacity="0.55"/>
<ellipse cx="323.5" cy="178.70" rx="42" ry="2.4" fill="url(#tail)" opacity="0.9"/>
<ellipse cx="329.5" cy="178.70" rx="24.5" ry="2.9" fill="url(#halo)"/>
<ellipse cx="329.5" cy="178.70" rx="16.5" ry="1.45" fill="url(#spot)"/>
</g>
<text x="212.80" y="222.05" font-size="6.8" text-anchor="end" fill="#1a1a1a" stroke="#1a1a1a" stroke-width="0.16" >11.6 μm</text>
<rect x="217.4" y="201.50" width="76.1" height="36.6" fill="#001664"/>
<clipPath id="cb40"><rect x="217.4" y="201.50" width="76.1" height="36.6"/></clipPath>
<g clip-path="url(#cb40)">
<ellipse cx="248.0" cy="220.30" rx="44" ry="9" fill="url(#glow)"/>
<ellipse cx="228.0" cy="217.30" rx="18" ry="1.6" fill="url(#streak)" opacity="0.55"/>
<ellipse cx="228.0" cy="223.30" rx="18" ry="1.6" fill="url(#streak)" opacity="0.55"/>
<ellipse cx="250.0" cy="220.30" rx="42" ry="2.4" fill="url(#tail)" opacity="0.9"/>
<ellipse cx="256.0" cy="220.30" rx="24.5" ry="2.9" fill="url(#halo)"/>
<ellipse cx="256.0" cy="220.30" rx="16.5" ry="1.45" fill="url(#spot)"/>
</g>
<rect x="297.9" y="201.50" width="76.1" height="36.6" fill="#001664"/>
<clipPath id="cb41"><rect x="297.9" y="201.50" width="76.1" height="36.6"/></clipPath>
<g clip-path="url(#cb41)">
<ellipse cx="316.2" cy="220.30" rx="44" ry="9" fill="url(#glow)"/>
<ellipse cx="296.2" cy="217.30" rx="18" ry="1.6" fill="url(#streak)" opacity="0.55"/>
<ellipse cx="296.2" cy="223.30" rx="18" ry="1.6" fill="url(#streak)" opacity="0.55"/>
<ellipse cx="318.2" cy="220.30" rx="42" ry="2.4" fill="url(#tail)" opacity="0.9"/>
<ellipse cx="324.2" cy="220.30" rx="24.5" ry="2.9" fill="url(#halo)"/>
<ellipse cx="324.2" cy="220.30" rx="16.5" ry="1.45" fill="url(#spot)"/>
</g>
<clipPath id="dcl0"><rect x="217.4" y="35.10" width="76.1" height="36.6"/><rect x="217.4" y="76.70" width="76.1" height="36.6"/><rect x="217.4" y="118.30" width="76.1" height="36.6"/><rect x="217.4" y="159.90" width="76.1" height="36.6"/><rect x="217.4" y="201.50" width="76.1" height="36.6"/></clipPath>
<line x1="255.4" y1="35.1" x2="255.4" y2="237.7" stroke="#fff" stroke-width="1.35" stroke-dasharray="5.6 5.71" stroke-dashoffset="3.15" clip-path="url(#dcl0)"/>
<clipPath id="dcl1"><rect x="297.9" y="35.10" width="76.1" height="36.6"/><rect x="297.9" y="76.70" width="76.1" height="36.6"/><rect x="297.9" y="118.30" width="76.1" height="36.6"/><rect x="297.9" y="159.90" width="76.1" height="36.6"/><rect x="297.9" y="201.50" width="76.1" height="36.6"/></clipPath>
<line x1="348.0" y1="35.1" x2="322.3" y2="237.7" stroke="#fff" stroke-width="1.35" stroke-dasharray="5.4 5.35" stroke-dashoffset="2.68" clip-path="url(#dcl1)"/>
<path d="M221.7 68.5V62.5M221.7 68.5H229" stroke="#fff" stroke-width="0.75" fill="none"/>
<path d="M221.7 61.1L220.6 63.3L222.8 63.3Z M230.3 68.5L228.1 67.4L228.1 69.6Z" fill="#fff"/>
<text x="224.20" y="60.60" font-size="3.8" text-anchor="start" fill="#fff" stroke="#fff" stroke-width="0.08" >x</text>
<text x="228.70" y="66.20" font-size="3.8" text-anchor="start" fill="#fff" stroke="#fff" stroke-width="0.08" font-style="italic">z</text>
<line x1="227.70" y1="238.1" x2="227.70" y2="239.6" stroke="#666" stroke-width="0.5"/>
<text x="227.70" y="247.80" font-size="6.7" text-anchor="middle" fill="#1a1a1a" stroke="#1a1a1a" stroke-width="0.16" >450</text>
<line x1="246.80" y1="238.1" x2="246.80" y2="239.6" stroke="#666" stroke-width="0.5"/>
<text x="246.80" y="247.80" font-size="6.7" text-anchor="middle" fill="#1a1a1a" stroke="#1a1a1a" stroke-width="0.16" >550</text>
<line x1="265.90" y1="238.1" x2="265.90" y2="239.6" stroke="#666" stroke-width="0.5"/>
<text x="265.90" y="247.80" font-size="6.7" text-anchor="middle" fill="#1a1a1a" stroke="#1a1a1a" stroke-width="0.16" >650</text>
<line x1="285.00" y1="238.1" x2="285.00" y2="239.6" stroke="#666" stroke-width="0.5"/>
<text x="285.00" y="247.80" font-size="6.7" text-anchor="middle" fill="#1a1a1a" stroke="#1a1a1a" stroke-width="0.16" >750</text>
<text x="257.90" y="258.00" font-size="6.5" text-anchor="middle" fill="#1a1a1a" stroke="#1a1a1a" stroke-width="0.16" >z axis (μm)</text>
<line x1="308.20" y1="238.1" x2="308.20" y2="239.6" stroke="#666" stroke-width="0.5"/>
<text x="308.20" y="247.80" font-size="6.7" text-anchor="middle" fill="#1a1a1a" stroke="#1a1a1a" stroke-width="0.16" >450</text>
<line x1="327.30" y1="238.1" x2="327.30" y2="239.6" stroke="#666" stroke-width="0.5"/>
<text x="327.30" y="247.80" font-size="6.7" text-anchor="middle" fill="#1a1a1a" stroke="#1a1a1a" stroke-width="0.16" >550</text>
<line x1="346.40" y1="238.1" x2="346.40" y2="239.6" stroke="#666" stroke-width="0.5"/>
<text x="346.40" y="247.80" font-size="6.7" text-anchor="middle" fill="#1a1a1a" stroke="#1a1a1a" stroke-width="0.16" >650</text>
<line x1="365.50" y1="238.1" x2="365.50" y2="239.6" stroke="#666" stroke-width="0.5"/>
<text x="365.50" y="247.80" font-size="6.7" text-anchor="middle" fill="#1a1a1a" stroke="#1a1a1a" stroke-width="0.16" >750</text>
<text x="338.40" y="258.00" font-size="6.5" text-anchor="middle" fill="#1a1a1a" stroke="#1a1a1a" stroke-width="0.16" >z axis (μm)</text>
<rect x="383.3" y="77" width="8" height="117.6" fill="url(#cbar)" stroke="#333" stroke-width="0.5"/>
<text x="387.30" y="73.20" font-size="6.5" text-anchor="middle" fill="#1a1a1a" stroke="#1a1a1a" stroke-width="0.16" >1</text>
<text x="387.30" y="205.20" font-size="6.5" text-anchor="middle" fill="#1a1a1a" stroke="#1a1a1a" stroke-width="0.16" >0</text>
<text transform="translate(398.3 131.1) rotate(90)" font-size="6.4" text-anchor="middle" fill="#1a1a1a" stroke="#1a1a1a" stroke-width="0.16">Normalized Intensity (a.u.)</text>
<text x="5.00" y="143.80" font-size="9.5" text-anchor="start" fill="#1a1a1a" stroke="#1a1a1a" stroke-width="0.16" >(c)</text>
<rect x="35.3" y="141.1" width="121.00000000000001" height="97.20000000000002" fill="none" stroke="#4a4a4a" stroke-width="0.8"/>
<line x1="33.5" y1="141.10" x2="35.3" y2="141.10" stroke="#444" stroke-width="0.6"/>
<text x="32.30" y="143.30" font-size="7.1" text-anchor="end" fill="#1a1a1a" stroke="#1a1a1a" stroke-width="0.16" >680</text>
<line x1="33.5" y1="165.40" x2="35.3" y2="165.40" stroke="#444" stroke-width="0.6"/>
<text x="32.30" y="167.60" font-size="7.1" text-anchor="end" fill="#1a1a1a" stroke="#1a1a1a" stroke-width="0.16" >640</text>
<line x1="33.5" y1="189.70" x2="35.3" y2="189.70" stroke="#444" stroke-width="0.6"/>
<text x="32.30" y="191.90" font-size="7.1" text-anchor="end" fill="#1a1a1a" stroke="#1a1a1a" stroke-width="0.16" >600</text>
<line x1="33.5" y1="214.00" x2="35.3" y2="214.00" stroke="#444" stroke-width="0.6"/>
<text x="32.30" y="216.20" font-size="7.1" text-anchor="end" fill="#1a1a1a" stroke="#1a1a1a" stroke-width="0.16" >560</text>
<line x1="33.5" y1="238.30" x2="35.3" y2="238.30" stroke="#444" stroke-width="0.6"/>
<text x="32.30" y="240.50" font-size="7.1" text-anchor="end" fill="#1a1a1a" stroke="#1a1a1a" stroke-width="0.16" >520</text>
<line x1="40.50" y1="238.3" x2="40.50" y2="239.9" stroke="#555" stroke-width="0.5"/>
<text x="40.50" y="248.30" font-size="6.8" text-anchor="middle" fill="#1a1a1a" stroke="#1a1a1a" stroke-width="0.16" >9.6</text>
<line x1="51.50" y1="238.3" x2="51.50" y2="239.9" stroke="#555" stroke-width="0.5"/>
<line x1="62.50" y1="238.3" x2="62.50" y2="239.9" stroke="#555" stroke-width="0.5"/>
<text x="62.50" y="248.30" font-size="6.8" text-anchor="middle" fill="#1a1a1a" stroke="#1a1a1a" stroke-width="0.16" >10.0</text>
<line x1="73.50" y1="238.3" x2="73.50" y2="239.9" stroke="#555" stroke-width="0.5"/>
<line x1="84.50" y1="238.3" x2="84.50" y2="239.9" stroke="#555" stroke-width="0.5"/>
<text x="84.50" y="248.30" font-size="6.8" text-anchor="middle" fill="#1a1a1a" stroke="#1a1a1a" stroke-width="0.16" >10.4</text>
<line x1="95.50" y1="238.3" x2="95.50" y2="239.9" stroke="#555" stroke-width="0.5"/>
<line x1="106.50" y1="238.3" x2="106.50" y2="239.9" stroke="#555" stroke-width="0.5"/>
<text x="106.50" y="248.30" font-size="6.8" text-anchor="middle" fill="#1a1a1a" stroke="#1a1a1a" stroke-width="0.16" >10.8</text>
<line x1="117.50" y1="238.3" x2="117.50" y2="239.9" stroke="#555" stroke-width="0.5"/>
<line x1="128.50" y1="238.3" x2="128.50" y2="239.9" stroke="#555" stroke-width="0.5"/>
<text x="128.50" y="248.30" font-size="6.8" text-anchor="middle" fill="#1a1a1a" stroke="#1a1a1a" stroke-width="0.16" >11.2</text>
<line x1="139.50" y1="238.3" x2="139.50" y2="239.9" stroke="#555" stroke-width="0.5"/>
<line x1="150.50" y1="238.3" x2="150.50" y2="239.9" stroke="#555" stroke-width="0.5"/>
<text x="150.50" y="248.30" font-size="6.8" text-anchor="middle" fill="#1a1a1a" stroke="#1a1a1a" stroke-width="0.16" >11.6</text>
<text x="96.80" y="256.20" font-size="6.9" text-anchor="middle" fill="#1a1a1a" stroke="#1a1a1a" stroke-width="0.16" >WaveLength (μm)</text>
<text transform="translate(15.4 187.5) rotate(-90)" font-size="7.1" text-anchor="middle" fill="#1a1a1a" stroke="#1a1a1a" stroke-width="0.16">Focal Length (μm)</text>
<polyline points="40.50,155.36 46.00,159.59 51.50,163.74 57.00,167.80 62.50,171.78 68.00,175.68 73.50,179.51 79.00,183.26 84.50,186.94 90.00,190.54 95.50,194.09 101.00,197.56 106.50,200.97 112.00,204.32 117.50,207.60 123.00,210.83 128.50,214.00 134.00,217.12 139.50,220.18 145.00,223.18 150.50,226.14" fill="none" stroke="#f5822a" stroke-width="0.7" opacity="0.8"/>
<polyline points="40.50,158.36 46.00,162.41 51.50,166.38 57.00,170.27 62.50,174.09 68.00,177.82 73.50,181.49 79.00,185.08 84.50,188.61 90.00,192.06 95.50,195.46 101.00,198.78 106.50,202.05 112.00,205.26 117.50,208.41 123.00,211.50 128.50,214.53 134.00,217.52 139.50,220.45 145.00,223.33 150.50,226.16" fill="none" stroke="#3a8ee6" stroke-width="0.7" opacity="0.8"/>
<polyline points="40.50,194.80 46.00,195.30 51.50,195.70 57.00,195.90 62.50,196.00 68.00,196.10 73.50,196.20 79.00,196.30 84.50,196.30 90.00,196.50 95.50,196.60 101.00,196.70 106.50,196.60 112.00,196.30 117.50,196.00 123.00,195.70 128.50,195.20 134.00,194.60 139.50,194.10 145.00,193.60 150.50,193.20" fill="none" stroke="#f2262e" stroke-width="0.6" stroke-dasharray="1.2 1" opacity="0.7"/>
<circle cx="40.50" cy="155.36" r="1.35" fill="#f5822a"/>
<circle cx="46.00" cy="159.59" r="1.35" fill="#f5822a"/>
<circle cx="51.50" cy="163.74" r="1.35" fill="#f5822a"/>
<circle cx="57.00" cy="167.80" r="1.35" fill="#f5822a"/>
<circle cx="62.50" cy="171.78" r="1.35" fill="#f5822a"/>
<circle cx="68.00" cy="175.68" r="1.35" fill="#f5822a"/>
<circle cx="73.50" cy="179.51" r="1.35" fill="#f5822a"/>
<circle cx="79.00" cy="183.26" r="1.35" fill="#f5822a"/>
<circle cx="84.50" cy="186.94" r="1.35" fill="#f5822a"/>
<circle cx="90.00" cy="190.54" r="1.35" fill="#f5822a"/>
<circle cx="95.50" cy="194.09" r="1.35" fill="#f5822a"/>
<circle cx="101.00" cy="197.56" r="1.35" fill="#f5822a"/>
<circle cx="106.50" cy="200.97" r="1.35" fill="#f5822a"/>
<circle cx="112.00" cy="204.32" r="1.35" fill="#f5822a"/>
<circle cx="117.50" cy="207.60" r="1.35" fill="#f5822a"/>
<circle cx="123.00" cy="210.83" r="1.35" fill="#f5822a"/>
<circle cx="128.50" cy="214.00" r="1.35" fill="#f5822a"/>
<circle cx="134.00" cy="217.12" r="1.35" fill="#f5822a"/>
<circle cx="139.50" cy="220.18" r="1.35" fill="#f5822a"/>
<circle cx="145.00" cy="223.18" r="1.35" fill="#f5822a"/>
<circle cx="150.50" cy="226.14" r="1.35" fill="#f5822a"/>
<path d="M40.50 156.76L42.00 159.46L39.00 159.46Z" fill="#3a8ee6"/>
<path d="M46.00 160.81L47.50 163.51L44.50 163.51Z" fill="#3a8ee6"/>
<path d="M51.50 164.78L53.00 167.48L50.00 167.48Z" fill="#3a8ee6"/>
<path d="M57.00 168.67L58.50 171.37L55.50 171.37Z" fill="#3a8ee6"/>
<path d="M62.50 172.49L64.00 175.19L61.00 175.19Z" fill="#3a8ee6"/>
<path d="M68.00 176.22L69.50 178.92L66.50 178.92Z" fill="#3a8ee6"/>
<path d="M73.50 179.89L75.00 182.59L72.00 182.59Z" fill="#3a8ee6"/>
<path d="M79.00 183.48L80.50 186.18L77.50 186.18Z" fill="#3a8ee6"/>
<path d="M84.50 187.01L86.00 189.71L83.00 189.71Z" fill="#3a8ee6"/>
<path d="M90.00 190.46L91.50 193.16L88.50 193.16Z" fill="#3a8ee6"/>
<path d="M95.50 193.86L97.00 196.56L94.00 196.56Z" fill="#3a8ee6"/>
<path d="M101.00 197.18L102.50 199.88L99.50 199.88Z" fill="#3a8ee6"/>
<path d="M106.50 200.45L108.00 203.15L105.00 203.15Z" fill="#3a8ee6"/>
<path d="M112.00 203.66L113.50 206.36L110.50 206.36Z" fill="#3a8ee6"/>
<path d="M117.50 206.81L119.00 209.51L116.00 209.51Z" fill="#3a8ee6"/>
<path d="M123.00 209.90L124.50 212.60L121.50 212.60Z" fill="#3a8ee6"/>
<path d="M128.50 212.93L130.00 215.63L127.00 215.63Z" fill="#3a8ee6"/>
<path d="M134.00 215.92L135.50 218.62L132.50 218.62Z" fill="#3a8ee6"/>
<path d="M139.50 218.85L141.00 221.55L138.00 221.55Z" fill="#3a8ee6"/>
<path d="M145.00 221.73L146.50 224.43L143.50 224.43Z" fill="#3a8ee6"/>
<path d="M150.50 224.56L152.00 227.26L149.00 227.26Z" fill="#3a8ee6"/>
<circle cx="40.50" cy="194.80" r="1.4" fill="#f2262e"/>
<circle cx="46.00" cy="195.30" r="1.4" fill="#f2262e"/>
<circle cx="51.50" cy="195.70" r="1.4" fill="#f2262e"/>
<circle cx="57.00" cy="195.90" r="1.4" fill="#f2262e"/>
<circle cx="62.50" cy="196.00" r="1.4" fill="#f2262e"/>
<circle cx="68.00" cy="196.10" r="1.4" fill="#f2262e"/>
<circle cx="73.50" cy="196.20" r="1.4" fill="#f2262e"/>
<circle cx="79.00" cy="196.30" r="1.4" fill="#f2262e"/>
<circle cx="84.50" cy="196.30" r="1.4" fill="#f2262e"/>
<circle cx="90.00" cy="196.50" r="1.4" fill="#f2262e"/>
<circle cx="95.50" cy="196.60" r="1.4" fill="#f2262e"/>
<circle cx="101.00" cy="196.70" r="1.4" fill="#f2262e"/>
<circle cx="106.50" cy="196.60" r="1.4" fill="#f2262e"/>
<circle cx="112.00" cy="196.30" r="1.4" fill="#f2262e"/>
<circle cx="117.50" cy="196.00" r="1.4" fill="#f2262e"/>
<circle cx="123.00" cy="195.70" r="1.4" fill="#f2262e"/>
<circle cx="128.50" cy="195.20" r="1.4" fill="#f2262e"/>
<circle cx="134.00" cy="194.60" r="1.4" fill="#f2262e"/>
<circle cx="139.50" cy="194.10" r="1.4" fill="#f2262e"/>
<circle cx="145.00" cy="193.60" r="1.4" fill="#f2262e"/>
<circle cx="150.50" cy="193.20" r="1.4" fill="#f2262e"/>
<line x1="75.9" y1="151.10" x2="84.3" y2="151.10" stroke="#f2262e" stroke-width="0.6" stroke-dasharray="1.3 0.9" opacity="0.6"/>
<circle cx="80.1" cy="151.10" r="1.35" fill="#f2262e"/>
<text x="89.00" y="153.60" font-size="6.95" text-anchor="start" fill="#1a1a1a" stroke="#1a1a1a" stroke-width="0.16" >Achromatic Metalens</text>
<line x1="75.9" y1="159.40" x2="84.3" y2="159.40" stroke="#f5822a" stroke-width="0.6" stroke-dasharray="1.3 0.9" opacity="0.6"/>
<circle cx="80.1" cy="159.40" r="1.35" fill="#f5822a"/>
<text x="89.00" y="161.90" font-size="6.95" text-anchor="start" fill="#1a1a1a" stroke="#1a1a1a" stroke-width="0.16" >PB Metalens</text>
<line x1="75.9" y1="167.70" x2="84.3" y2="167.70" stroke="#3a8ee6" stroke-width="0.6" stroke-dasharray="1.3 0.9" opacity="0.6"/>
<path d="M80.1 166.10L81.6 168.80L78.6 168.80Z" fill="#3a8ee6"/>
<text x="89.00" y="170.20" font-size="6.95" text-anchor="start" fill="#1a1a1a" stroke="#1a1a1a" stroke-width="0.16" >Predicted</text>
<text x="5.10" y="280.80" font-size="9.7" text-anchor="start" fill="#1a1a1a" stroke="#1a1a1a" stroke-width="0.16" >(d)</text>
<text x="205.20" y="267.50" font-size="6.9" text-anchor="middle" fill="#1a1a1a" stroke="#1a1a1a" stroke-width="0.16" >Achromatic Metalens</text>
<text x="205.30" y="418.00" font-size="6.85" text-anchor="middle" fill="#1a1a1a" stroke="#1a1a1a" stroke-width="0.16" >PB Metalens</text>
<text x="5.10" y="424.20" font-size="9.7" text-anchor="start" fill="#1a1a1a" stroke="#1a1a1a" stroke-width="0.16" >(f)</text>
<text x="5.10" y="347.50" font-size="9.7" text-anchor="start" fill="#1a1a1a" stroke="#1a1a1a" stroke-width="0.16" >(e)</text>
<text x="5.10" y="484.10" font-size="9.7" text-anchor="start" fill="#1a1a1a" stroke="#1a1a1a" stroke-width="0.16" >(g)</text>
<text x="65.45" y="280.70" font-size="6.85" text-anchor="middle" fill="#1a1a1a" stroke="#1a1a1a" stroke-width="0.16" >9.6 μm</text>
<text x="139.40" y="280.70" font-size="6.85" text-anchor="middle" fill="#1a1a1a" stroke="#1a1a1a" stroke-width="0.16" >10.1 μm</text>
<text x="207.90" y="280.70" font-size="6.85" text-anchor="middle" fill="#1a1a1a" stroke="#1a1a1a" stroke-width="0.16" >10.6 μm</text>
<text x="276.75" y="280.70" font-size="6.85" text-anchor="middle" fill="#1a1a1a" stroke="#1a1a1a" stroke-width="0.16" >11.1 μm</text>
<text x="349.20" y="280.70" font-size="6.85" text-anchor="middle" fill="#1a1a1a" stroke="#1a1a1a" stroke-width="0.16" >11.6 μm</text>
<rect x="35.6" y="287.9" width="60.0" height="57.00" fill="url(#gd0)"/>
<rect x="35.6" y="423.9" width="60.0" height="57.70" fill="url(#gf0)"/>
<rect x="105.6" y="287.9" width="60.0" height="57.00" fill="url(#gd1)"/>
<rect x="105.6" y="423.9" width="60.0" height="57.70" fill="url(#gf1)"/>
<rect x="175.6" y="287.9" width="60.0" height="57.00" fill="url(#gd2)"/>
<rect x="175.6" y="423.9" width="60.0" height="57.70" fill="url(#gf2)"/>
<rect x="245.6" y="287.9" width="60.0" height="57.00" fill="url(#gd3)"/>
<rect x="245.6" y="423.9" width="60.0" height="57.70" fill="url(#gf3)"/>
<rect x="315.6" y="287.9" width="60.0" height="57.00" fill="url(#gd4)"/>
<rect x="315.6" y="423.9" width="60.0" height="57.70" fill="url(#gf4)"/>
<path d="M39.4 340.5V333.7M39.4 340.5H46.6" stroke="#fff" stroke-width="0.8" fill="none"/>
<path d="M39.4 332.0L38.199999999999996 334.3L40.6 334.3Z M48.0 340.5L45.699999999999996 339.3L45.699999999999996 341.7Z" fill="#fff"/>
<text x="40.90" y="332.10" font-size="4.3" text-anchor="start" fill="#dfe8f5" stroke="#dfe8f5" stroke-width="0.08" >y</text>
<text x="46.00" y="337.70" font-size="4.3" text-anchor="start" fill="#dfe8f5" stroke="#dfe8f5" stroke-width="0.08" >x</text>
<path d="M39.4 476.6V469.8M39.4 476.6H46.6" stroke="#fff" stroke-width="0.8" fill="none"/>
<path d="M39.4 468.1L38.199999999999996 470.40000000000003L40.6 470.40000000000003Z M48.0 476.6L45.699999999999996 475.40000000000003L45.699999999999996 477.8Z" fill="#fff"/>
<text x="40.90" y="468.20" font-size="4.3" text-anchor="start" fill="#dfe8f5" stroke="#dfe8f5" stroke-width="0.08" >y</text>
<text x="46.00" y="473.80" font-size="4.3" text-anchor="start" fill="#dfe8f5" stroke="#dfe8f5" stroke-width="0.08" >x</text>
<rect x="35.5" y="344.9" width="60" height="48.60" fill="#fff" stroke="#9a9a9a" stroke-width="0.95"/>
<polyline points="35.60,393.50 36.00,393.49 36.40,393.47 36.80,393.43 37.20,393.36 37.60,393.28 38.00,393.19 38.40,393.09 38.80,392.98 39.20,392.86 39.60,392.74 40.00,392.62 40.40,392.51 40.80,392.40 41.20,392.30 41.60,392.22 42.00,392.15 42.40,392.11 42.80,392.08 43.20,392.07 43.60,392.08 44.00,392.11 44.40,392.15 44.80,392.22 45.20,392.30 45.60,392.40 46.00,392.51 46.40,392.62 46.80,392.74 47.20,392.86 47.60,392.98 48.00,393.09 48.40,393.19 48.80,393.28 49.20,393.36 49.60,393.43 50.00,393.47 50.40,393.49 50.80,393.49 51.20,393.37 51.60,393.07 52.00,392.61 52.40,391.98 52.80,391.20 53.20,390.26 53.60,389.17 54.00,387.94 54.40,386.59 54.80,385.11 55.20,383.53 55.60,381.84 56.00,380.07 56.40,378.22 56.80,376.31 57.20,374.36 57.60,372.37 58.00,370.36 58.40,368.34 58.80,366.33 59.20,364.35 59.60,362.41 60.00,360.51 60.40,358.68 60.80,356.93 61.20,355.27 61.60,353.71 62.00,352.26 62.40,350.94 62.80,349.75 63.20,348.70 63.60,347.79 64.00,347.05 64.40,346.46 64.80,346.04 65.20,345.78 65.60,345.70 66.00,345.78 66.40,346.04 66.80,346.46 67.20,347.05 67.60,347.79 68.00,348.70 68.40,349.75 68.80,350.94 69.20,352.26 69.60,353.71 70.00,355.27 70.40,356.93 70.80,358.68 71.20,360.51 71.60,362.41 72.00,364.35 72.40,366.33 72.80,368.34 73.20,370.36 73.60,372.37 74.00,374.36 74.40,376.31 74.80,378.22 75.20,380.07 75.60,381.84 76.00,383.53 76.40,385.11 76.80,386.59 77.20,387.94 77.60,389.17 78.00,390.26 78.40,391.20 78.80,391.98 79.20,392.61 79.60,393.07 80.00,393.37 80.40,393.49 80.80,393.49 81.20,393.47 81.60,393.43 82.00,393.36 82.40,393.28 82.80,393.19 83.20,393.09 83.60,392.98 84.00,392.86 84.40,392.74 84.80,392.62 85.20,392.51 85.60,392.40 86.00,392.30 86.40,392.22 86.80,392.15 87.20,392.11 87.60,392.08 88.00,392.07 88.40,392.08 88.80,392.11 89.20,392.15 89.60,392.22 90.00,392.30 90.40,392.40 90.80,392.51 91.20,392.62 91.60,392.74 92.00,392.86 92.40,392.98 92.80,393.09 93.20,393.19 93.60,393.28 94.00,393.36 94.40,393.43 94.80,393.47 95.20,393.49 95.60,393.50" fill="none" stroke="#333" stroke-width="0.7"/>
<polyline points="35.60,393.50 36.00,393.49 36.40,393.46 36.80,393.41 37.20,393.35 37.60,393.27 38.00,393.17 38.40,393.07 38.80,392.95 39.20,392.84 39.60,392.72 40.00,392.60 40.40,392.48 40.80,392.38 41.20,392.29 41.60,392.21 42.00,392.14 42.40,392.10 42.80,392.07 43.20,392.07 43.60,392.08 44.00,392.11 44.40,392.17 44.80,392.24 45.20,392.32 45.60,392.42 46.00,392.53 46.40,392.64 46.80,392.76 47.20,392.88 47.60,393.00 48.00,393.11 48.40,393.21 48.80,393.30 49.20,393.38 49.60,393.43 50.00,393.48 50.40,393.50 50.80,393.48 51.20,393.33 51.60,393.00 52.00,392.51 52.40,391.86 52.80,391.06 53.20,390.10 53.60,389.00 54.00,387.76 54.40,386.39 54.80,384.91 55.20,383.31 55.60,381.62 56.00,379.85 56.40,378.00 56.80,376.10 57.20,374.15 57.60,372.17 58.00,370.17 58.40,368.16 58.80,366.17 59.20,364.20 59.60,362.26 60.00,360.38 60.40,358.57 60.80,356.83 61.20,355.18 61.60,353.63 62.00,352.20 62.40,350.89 62.80,349.71 63.20,348.67 63.60,347.77 64.00,347.03 64.40,346.45 64.80,346.04 65.20,345.78 65.60,345.70 66.00,345.78 66.40,346.04 66.80,346.45 67.20,347.03 67.60,347.77 68.00,348.67 68.40,349.71 68.80,350.89 69.20,352.20 69.60,353.63 70.00,355.18 70.40,356.83 70.80,358.57 71.20,360.38 71.60,362.26 72.00,364.20 72.40,366.17 72.80,368.16 73.20,370.17 73.60,372.17 74.00,374.15 74.40,376.10 74.80,378.00 75.20,379.85 75.60,381.62 76.00,383.31 76.40,384.91 76.80,386.39 77.20,387.76 77.60,389.00 78.00,390.10 78.40,391.06 78.80,391.86 79.20,392.51 79.60,393.00 80.00,393.33 80.40,393.48 80.80,393.50 81.20,393.48 81.60,393.43 82.00,393.38 82.40,393.30 82.80,393.21 83.20,393.11 83.60,393.00 84.00,392.88 84.40,392.76 84.80,392.64 85.20,392.53 85.60,392.42 86.00,392.32 86.40,392.24 86.80,392.17 87.20,392.11 87.60,392.08 88.00,392.07 88.40,392.07 88.80,392.10 89.20,392.14 89.60,392.21 90.00,392.29 90.40,392.38 90.80,392.48 91.20,392.60 91.60,392.72 92.00,392.84 92.40,392.95 92.80,393.07 93.20,393.17 93.60,393.27 94.00,393.35 94.40,393.41 94.80,393.46 95.20,393.49 95.60,393.50" fill="none" stroke="#e8262e" stroke-width="1.05" stroke-dasharray="2.2 0.6"/>
<line x1="36.6" y1="351.00" x2="42.2" y2="351.00" stroke="#e8343a" stroke-width="0.9" stroke-dasharray="2 1.4"/>
<line x1="71.1" y1="351.40" x2="76.5" y2="351.40" stroke="#333" stroke-width="1.0"/>
<text x="52.10" y="349.50" font-size="3.95" text-anchor="middle" fill="#333" stroke="#333" stroke-width="0.08" >Achromatic</text>
<text x="52.10" y="354.20" font-size="3.95" text-anchor="middle" fill="#333" stroke="#333" stroke-width="0.08" >Metalens</text>
<text x="84.90" y="349.50" font-size="3.95" text-anchor="middle" fill="#333" stroke="#333" stroke-width="0.08" >Diffraction</text>
<text x="85.40" y="354.20" font-size="3.95" text-anchor="middle" fill="#333" stroke="#333" stroke-width="0.08" >Limit</text>
<text x="35.60" y="400.10" font-size="5.9" text-anchor="middle" fill="#1a1a1a" stroke="#1a1a1a" stroke-width="0.16" >−30</text>
<text x="65.60" y="400.10" font-size="5.9" text-anchor="middle" fill="#1a1a1a" stroke="#1a1a1a" stroke-width="0.16" >0</text>
<text x="95.60" y="400.10" font-size="5.9" text-anchor="middle" fill="#1a1a1a" stroke="#1a1a1a" stroke-width="0.16" >30</text>
<text x="65.60" y="407.30" font-size="6.9" text-anchor="middle" fill="#1a1a1a" stroke="#1a1a1a" stroke-width="0.16" >X (μm)</text>
<rect x="105.5" y="344.9" width="60" height="48.60" fill="#fff" stroke="#9a9a9a" stroke-width="0.95"/>
<polyline points="105.60,393.41 106.00,393.34 106.40,393.26 106.80,393.17 107.20,393.06 107.60,392.95 108.00,392.83 108.40,392.71 108.80,392.59 109.20,392.48 109.60,392.37 110.00,392.28 110.40,392.20 110.80,392.14 111.20,392.10 111.60,392.07 112.00,392.07 112.40,392.08 112.80,392.12 113.20,392.17 113.60,392.24 114.00,392.33 114.40,392.43 114.80,392.53 115.20,392.65 115.60,392.77 116.00,392.89 116.40,393.01 116.80,393.12 117.20,393.22 117.60,393.31 118.00,393.38 118.40,393.44 118.80,393.48 119.20,393.50 119.60,393.48 120.00,393.34 120.40,393.05 120.80,392.62 121.20,392.06 121.60,391.35 122.00,390.52 122.40,389.56 122.80,388.49 123.20,387.29 123.60,386.00 124.00,384.60 124.40,383.11 124.80,381.54 125.20,379.90 125.60,378.20 126.00,376.45 126.40,374.65 126.80,372.83 127.20,370.98 127.60,369.13 128.00,367.28 128.40,365.45 128.80,363.63 129.20,361.86 129.60,360.13 130.00,358.46 130.40,356.85 130.80,355.33 131.20,353.88 131.60,352.54 132.00,351.29 132.40,350.16 132.80,349.14 133.20,348.24 133.60,347.47 134.00,346.84 134.40,346.34 134.80,345.99 135.20,345.77 135.60,345.70 136.00,345.77 136.40,345.99 136.80,346.34 137.20,346.84 137.60,347.47 138.00,348.24 138.40,349.14 138.80,350.16 139.20,351.29 139.60,352.54 140.00,353.88 140.40,355.33 140.80,356.85 141.20,358.46 141.60,360.13 142.00,361.86 142.40,363.63 142.80,365.45 143.20,367.28 143.60,369.13 144.00,370.98 144.40,372.83 144.80,374.65 145.20,376.45 145.60,378.20 146.00,379.90 146.40,381.54 146.80,383.11 147.20,384.60 147.60,386.00 148.00,387.29 148.40,388.49 148.80,389.56 149.20,390.52 149.60,391.35 150.00,392.06 150.40,392.62 150.80,393.05 151.20,393.34 151.60,393.48 152.00,393.50 152.40,393.48 152.80,393.44 153.20,393.38 153.60,393.31 154.00,393.22 154.40,393.12 154.80,393.01 155.20,392.89 155.60,392.77 156.00,392.65 156.40,392.53 156.80,392.43 157.20,392.33 157.60,392.24 158.00,392.17 158.40,392.12 158.80,392.08 159.20,392.07 159.60,392.07 160.00,392.10 160.40,392.14 160.80,392.20 161.20,392.28 161.60,392.37 162.00,392.48 162.40,392.59 162.80,392.71 163.20,392.83 163.60,392.95 164.00,393.06 164.40,393.17 164.80,393.26 165.20,393.34 165.60,393.41" fill="none" stroke="#333" stroke-width="0.7"/>
<polyline points="105.60,393.40 106.00,393.33 106.40,393.24 106.80,393.15 107.20,393.04 107.60,392.92 108.00,392.80 108.40,392.68 108.80,392.57 109.20,392.46 109.60,392.35 110.00,392.26 110.40,392.19 110.80,392.13 111.20,392.09 111.60,392.07 112.00,392.07 112.40,392.09 112.80,392.13 113.20,392.18 113.60,392.26 114.00,392.35 114.40,392.45 114.80,392.56 115.20,392.67 115.60,392.79 116.00,392.91 116.40,393.03 116.80,393.14 117.20,393.24 117.60,393.32 118.00,393.39 118.40,393.45 118.80,393.48 119.20,393.50 119.60,393.46 120.00,393.29 120.40,392.98 120.80,392.53 121.20,391.94 121.60,391.22 122.00,390.37 122.40,389.40 122.80,388.30 123.20,387.10 123.60,385.79 124.00,384.39 124.40,382.90 124.80,381.33 125.20,379.69 125.60,377.99 126.00,376.24 126.40,374.45 126.80,372.63 127.20,370.79 127.60,368.95 128.00,367.11 128.40,365.28 128.80,363.48 129.20,361.72 129.60,360.00 130.00,358.34 130.40,356.75 130.80,355.24 131.20,353.81 131.60,352.47 132.00,351.24 132.40,350.11 132.80,349.10 133.20,348.22 133.60,347.46 134.00,346.83 134.40,346.34 134.80,345.98 135.20,345.77 135.60,345.70 136.00,345.77 136.40,345.98 136.80,346.34 137.20,346.83 137.60,347.46 138.00,348.22 138.40,349.10 138.80,350.11 139.20,351.24 139.60,352.47 140.00,353.81 140.40,355.24 140.80,356.75 141.20,358.34 141.60,360.00 142.00,361.72 142.40,363.48 142.80,365.28 143.20,367.11 143.60,368.95 144.00,370.79 144.40,372.63 144.80,374.45 145.20,376.24 145.60,377.99 146.00,379.69 146.40,381.33 146.80,382.90 147.20,384.39 147.60,385.79 148.00,387.10 148.40,388.30 148.80,389.40 149.20,390.37 149.60,391.22 150.00,391.94 150.40,392.53 150.80,392.98 151.20,393.29 151.60,393.46 152.00,393.50 152.40,393.48 152.80,393.45 153.20,393.39 153.60,393.32 154.00,393.24 154.40,393.14 154.80,393.03 155.20,392.91 155.60,392.79 156.00,392.67 156.40,392.56 156.80,392.45 157.20,392.35 157.60,392.26 158.00,392.18 158.40,392.13 158.80,392.09 159.20,392.07 159.60,392.07 160.00,392.09 160.40,392.13 160.80,392.19 161.20,392.26 161.60,392.35 162.00,392.46 162.40,392.57 162.80,392.68 163.20,392.80 163.60,392.92 164.00,393.04 164.40,393.15 164.80,393.24 165.20,393.33 165.60,393.40" fill="none" stroke="#e8262e" stroke-width="1.05" stroke-dasharray="2.2 0.6"/>
<line x1="106.6" y1="351.00" x2="112.19999999999999" y2="351.00" stroke="#e8343a" stroke-width="0.9" stroke-dasharray="2 1.4"/>
<line x1="141.1" y1="351.40" x2="146.5" y2="351.40" stroke="#333" stroke-width="1.0"/>
<text x="122.10" y="349.50" font-size="3.95" text-anchor="middle" fill="#333" stroke="#333" stroke-width="0.08" >Achromatic</text>
<text x="122.10" y="354.20" font-size="3.95" text-anchor="middle" fill="#333" stroke="#333" stroke-width="0.08" >Metalens</text>
<text x="154.90" y="349.50" font-size="3.95" text-anchor="middle" fill="#333" stroke="#333" stroke-width="0.08" >Diffraction</text>
<text x="155.40" y="354.20" font-size="3.95" text-anchor="middle" fill="#333" stroke="#333" stroke-width="0.08" >Limit</text>
<text x="105.60" y="400.10" font-size="5.9" text-anchor="middle" fill="#1a1a1a" stroke="#1a1a1a" stroke-width="0.16" >−30</text>
<text x="135.60" y="400.10" font-size="5.9" text-anchor="middle" fill="#1a1a1a" stroke="#1a1a1a" stroke-width="0.16" >0</text>
<text x="165.60" y="400.10" font-size="5.9" text-anchor="middle" fill="#1a1a1a" stroke="#1a1a1a" stroke-width="0.16" >30</text>
<text x="135.60" y="407.30" font-size="6.9" text-anchor="middle" fill="#1a1a1a" stroke="#1a1a1a" stroke-width="0.16" >X (μm)</text>
<rect x="175.5" y="344.9" width="60" height="48.60" fill="#fff" stroke="#9a9a9a" stroke-width="0.95"/>
<polyline points="175.60,393.13 176.00,393.02 176.40,392.90 176.80,392.78 177.20,392.66 177.60,392.55 178.00,392.44 178.40,392.34 178.80,392.25 179.20,392.18 179.60,392.12 180.00,392.09 180.40,392.07 180.80,392.07 181.20,392.09 181.60,392.13 182.00,392.19 182.40,392.27 182.80,392.36 183.20,392.46 183.60,392.57 184.00,392.69 184.40,392.81 184.80,392.93 185.20,393.05 185.60,393.15 186.00,393.25 186.40,393.33 186.80,393.40 187.20,393.45 187.60,393.49 188.00,393.50 188.40,393.45 188.80,393.29 189.20,393.00 189.60,392.59 190.00,392.06 190.40,391.42 190.80,390.67 191.20,389.81 191.60,388.84 192.00,387.78 192.40,386.62 192.80,385.38 193.20,384.05 193.60,382.65 194.00,381.19 194.40,379.66 194.80,378.08 195.20,376.46 195.60,374.81 196.00,373.12 196.40,371.42 196.80,369.71 197.20,368.00 197.60,366.30 198.00,364.62 198.40,362.96 198.80,361.33 199.20,359.75 199.60,358.21 200.00,356.74 200.40,355.33 200.80,354.00 201.20,352.74 201.60,351.57 202.00,350.50 202.40,349.52 202.80,348.64 203.20,347.87 203.60,347.22 204.00,346.67 204.40,346.25 204.80,345.94 205.20,345.76 205.60,345.70 206.00,345.76 206.40,345.94 206.80,346.25 207.20,346.67 207.60,347.22 208.00,347.87 208.40,348.64 208.80,349.52 209.20,350.50 209.60,351.57 210.00,352.74 210.40,354.00 210.80,355.33 211.20,356.74 211.60,358.21 212.00,359.75 212.40,361.33 212.80,362.96 213.20,364.62 213.60,366.30 214.00,368.00 214.40,369.71 214.80,371.42 215.20,373.12 215.60,374.81 216.00,376.46 216.40,378.08 216.80,379.66 217.20,381.19 217.60,382.65 218.00,384.05 218.40,385.38 218.80,386.62 219.20,387.78 219.60,388.84 220.00,389.81 220.40,390.67 220.80,391.42 221.20,392.06 221.60,392.59 222.00,393.00 222.40,393.29 222.80,393.45 223.20,393.50 223.60,393.49 224.00,393.45 224.40,393.40 224.80,393.33 225.20,393.25 225.60,393.15 226.00,393.05 226.40,392.93 226.80,392.81 227.20,392.69 227.60,392.57 228.00,392.46 228.40,392.36 228.80,392.27 229.20,392.19 229.60,392.13 230.00,392.09 230.40,392.07 230.80,392.07 231.20,392.09 231.60,392.12 232.00,392.18 232.40,392.25 232.80,392.34 233.20,392.44 233.60,392.55 234.00,392.66 234.40,392.78 234.80,392.90 235.20,393.02 235.60,393.13" fill="none" stroke="#333" stroke-width="0.7"/>
<polyline points="175.60,393.11 176.00,392.99 176.40,392.88 176.80,392.76 177.20,392.64 177.60,392.52 178.00,392.42 178.40,392.32 178.80,392.23 179.20,392.16 179.60,392.11 180.00,392.08 180.40,392.07 180.80,392.07 181.20,392.10 181.60,392.15 182.00,392.21 182.40,392.29 182.80,392.38 183.20,392.49 183.60,392.60 184.00,392.72 184.40,392.84 184.80,392.96 185.20,393.07 185.60,393.18 186.00,393.27 186.40,393.35 186.80,393.42 187.20,393.46 187.60,393.49 188.00,393.50 188.40,393.43 188.80,393.24 189.20,392.92 189.60,392.49 190.00,391.95 190.40,391.29 190.80,390.52 191.20,389.64 191.60,388.66 192.00,387.59 192.40,386.42 192.80,385.17 193.20,383.84 193.60,382.44 194.00,380.97 194.40,379.44 194.80,377.87 195.20,376.25 195.60,374.60 196.00,372.92 196.40,371.23 196.80,369.53 197.20,367.83 197.60,366.13 198.00,364.46 198.40,362.81 198.80,361.19 199.20,359.62 199.60,358.10 200.00,356.64 200.40,355.24 200.80,353.92 201.20,352.67 201.60,351.52 202.00,350.45 202.40,349.48 202.80,348.61 203.20,347.85 203.60,347.20 204.00,346.66 204.40,346.24 204.80,345.94 205.20,345.76 205.60,345.70 206.00,345.76 206.40,345.94 206.80,346.24 207.20,346.66 207.60,347.20 208.00,347.85 208.40,348.61 208.80,349.48 209.20,350.45 209.60,351.52 210.00,352.67 210.40,353.92 210.80,355.24 211.20,356.64 211.60,358.10 212.00,359.62 212.40,361.19 212.80,362.81 213.20,364.46 213.60,366.13 214.00,367.83 214.40,369.53 214.80,371.23 215.20,372.92 215.60,374.60 216.00,376.25 216.40,377.87 216.80,379.44 217.20,380.97 217.60,382.44 218.00,383.84 218.40,385.17 218.80,386.42 219.20,387.59 219.60,388.66 220.00,389.64 220.40,390.52 220.80,391.29 221.20,391.95 221.60,392.49 222.00,392.92 222.40,393.24 222.80,393.43 223.20,393.50 223.60,393.49 224.00,393.46 224.40,393.42 224.80,393.35 225.20,393.27 225.60,393.18 226.00,393.07 226.40,392.96 226.80,392.84 227.20,392.72 227.60,392.60 228.00,392.49 228.40,392.38 228.80,392.29 229.20,392.21 229.60,392.15 230.00,392.10 230.40,392.07 230.80,392.07 231.20,392.08 231.60,392.11 232.00,392.16 232.40,392.23 232.80,392.32 233.20,392.42 233.60,392.52 234.00,392.64 234.40,392.76 234.80,392.88 235.20,392.99 235.60,393.11" fill="none" stroke="#e8262e" stroke-width="1.05" stroke-dasharray="2.2 0.6"/>
<line x1="176.6" y1="351.00" x2="182.2" y2="351.00" stroke="#e8343a" stroke-width="0.9" stroke-dasharray="2 1.4"/>
<line x1="211.1" y1="351.40" x2="216.5" y2="351.40" stroke="#333" stroke-width="1.0"/>
<text x="192.10" y="349.50" font-size="3.95" text-anchor="middle" fill="#333" stroke="#333" stroke-width="0.08" >Achromatic</text>
<text x="192.10" y="354.20" font-size="3.95" text-anchor="middle" fill="#333" stroke="#333" stroke-width="0.08" >Metalens</text>
<text x="224.90" y="349.50" font-size="3.95" text-anchor="middle" fill="#333" stroke="#333" stroke-width="0.08" >Diffraction</text>
<text x="225.40" y="354.20" font-size="3.95" text-anchor="middle" fill="#333" stroke="#333" stroke-width="0.08" >Limit</text>
<text x="175.60" y="400.10" font-size="5.9" text-anchor="middle" fill="#1a1a1a" stroke="#1a1a1a" stroke-width="0.16" >−30</text>
<text x="205.60" y="400.10" font-size="5.9" text-anchor="middle" fill="#1a1a1a" stroke="#1a1a1a" stroke-width="0.16" >0</text>
<text x="235.60" y="400.10" font-size="5.9" text-anchor="middle" fill="#1a1a1a" stroke="#1a1a1a" stroke-width="0.16" >30</text>
<text x="205.60" y="407.30" font-size="6.9" text-anchor="middle" fill="#1a1a1a" stroke="#1a1a1a" stroke-width="0.16" >X (μm)</text>
<rect x="245.5" y="344.9" width="60" height="48.60" fill="#fff" stroke="#9a9a9a" stroke-width="0.95"/>
<polyline points="245.60,392.73 246.00,392.61 246.40,392.50 246.80,392.39 247.20,392.30 247.60,392.21 248.00,392.15 248.40,392.10 248.80,392.07 249.20,392.07 249.60,392.08 250.00,392.11 250.40,392.16 250.80,392.23 251.20,392.31 251.60,392.41 252.00,392.51 252.40,392.63 252.80,392.75 253.20,392.87 253.60,392.99 254.00,393.10 254.40,393.20 254.80,393.29 255.20,393.37 255.60,393.43 256.00,393.47 256.40,393.50 256.80,393.49 257.20,393.41 257.60,393.21 258.00,392.92 258.40,392.52 258.80,392.02 259.20,391.42 259.60,390.72 260.00,389.94 260.40,389.06 260.80,388.10 261.20,387.05 261.60,385.93 262.00,384.74 262.40,383.48 262.80,382.16 263.20,380.78 263.60,379.35 264.00,377.89 264.40,376.38 264.80,374.85 265.20,373.29 265.60,371.71 266.00,370.13 266.40,368.54 266.80,366.96 267.20,365.39 267.60,363.84 268.00,362.32 268.40,360.82 268.80,359.37 269.20,357.96 269.60,356.60 270.00,355.30 270.40,354.06 270.80,352.89 271.20,351.79 271.60,350.77 272.00,349.84 272.40,348.99 272.80,348.23 273.20,347.57 273.60,347.00 274.00,346.54 274.40,346.17 274.80,345.91 275.20,345.75 275.60,345.70 276.00,345.75 276.40,345.91 276.80,346.17 277.20,346.54 277.60,347.00 278.00,347.57 278.40,348.23 278.80,348.99 279.20,349.84 279.60,350.77 280.00,351.79 280.40,352.89 280.80,354.06 281.20,355.30 281.60,356.60 282.00,357.96 282.40,359.37 282.80,360.82 283.20,362.32 283.60,363.84 284.00,365.39 284.40,366.96 284.80,368.54 285.20,370.13 285.60,371.71 286.00,373.29 286.40,374.85 286.80,376.38 287.20,377.89 287.60,379.35 288.00,380.78 288.40,382.16 288.80,383.48 289.20,384.74 289.60,385.93 290.00,387.05 290.40,388.10 290.80,389.06 291.20,389.94 291.60,390.72 292.00,391.42 292.40,392.02 292.80,392.52 293.20,392.92 293.60,393.21 294.00,393.41 294.40,393.49 294.80,393.50 295.20,393.47 295.60,393.43 296.00,393.37 296.40,393.29 296.80,393.20 297.20,393.10 297.60,392.99 298.00,392.87 298.40,392.75 298.80,392.63 299.20,392.51 299.60,392.41 300.00,392.31 300.40,392.23 300.80,392.16 301.20,392.11 301.60,392.08 302.00,392.07 302.40,392.07 302.80,392.10 303.20,392.15 303.60,392.21 304.00,392.30 304.40,392.39 304.80,392.50 305.20,392.61 305.60,392.73" fill="none" stroke="#333" stroke-width="0.7"/>
<polyline points="245.60,392.70 246.00,392.58 246.40,392.47 246.80,392.37 247.20,392.28 247.60,392.20 248.00,392.14 248.40,392.09 248.80,392.07 249.20,392.07 249.60,392.08 250.00,392.12 250.40,392.17 250.80,392.25 251.20,392.33 251.60,392.43 252.00,392.54 252.40,392.66 252.80,392.78 253.20,392.90 253.60,393.01 254.00,393.12 254.40,393.22 254.80,393.31 255.20,393.38 255.60,393.44 256.00,393.48 256.40,393.50 256.80,393.48 257.20,393.37 257.60,393.16 258.00,392.84 258.40,392.42 258.80,391.90 259.20,391.29 259.60,390.58 260.00,389.77 260.40,388.88 260.80,387.91 261.20,386.86 261.60,385.73 262.00,384.53 262.40,383.26 262.80,381.94 263.20,380.56 263.60,379.14 264.00,377.67 264.40,376.17 264.80,374.64 265.20,373.08 265.60,371.52 266.00,369.94 266.40,368.36 266.80,366.79 267.20,365.23 267.60,363.69 268.00,362.17 268.40,360.69 268.80,359.25 269.20,357.85 269.60,356.50 270.00,355.21 270.40,353.98 270.80,352.82 271.20,351.73 271.60,350.73 272.00,349.80 272.40,348.96 272.80,348.21 273.20,347.55 273.60,346.99 274.00,346.53 274.40,346.17 274.80,345.91 275.20,345.75 275.60,345.70 276.00,345.75 276.40,345.91 276.80,346.17 277.20,346.53 277.60,346.99 278.00,347.55 278.40,348.21 278.80,348.96 279.20,349.80 279.60,350.73 280.00,351.73 280.40,352.82 280.80,353.98 281.20,355.21 281.60,356.50 282.00,357.85 282.40,359.25 282.80,360.69 283.20,362.17 283.60,363.69 284.00,365.23 284.40,366.79 284.80,368.36 285.20,369.94 285.60,371.52 286.00,373.08 286.40,374.64 286.80,376.17 287.20,377.67 287.60,379.14 288.00,380.56 288.40,381.94 288.80,383.26 289.20,384.53 289.60,385.73 290.00,386.86 290.40,387.91 290.80,388.88 291.20,389.77 291.60,390.58 292.00,391.29 292.40,391.90 292.80,392.42 293.20,392.84 293.60,393.16 294.00,393.37 294.40,393.48 294.80,393.50 295.20,393.48 295.60,393.44 296.00,393.38 296.40,393.31 296.80,393.22 297.20,393.12 297.60,393.01 298.00,392.90 298.40,392.78 298.80,392.66 299.20,392.54 299.60,392.43 300.00,392.33 300.40,392.25 300.80,392.17 301.20,392.12 301.60,392.08 302.00,392.07 302.40,392.07 302.80,392.09 303.20,392.14 303.60,392.20 304.00,392.28 304.40,392.37 304.80,392.47 305.20,392.58 305.60,392.70" fill="none" stroke="#e8262e" stroke-width="1.05" stroke-dasharray="2.2 0.6"/>
<line x1="246.6" y1="351.00" x2="252.2" y2="351.00" stroke="#e8343a" stroke-width="0.9" stroke-dasharray="2 1.4"/>
<line x1="281.1" y1="351.40" x2="286.5" y2="351.40" stroke="#333" stroke-width="1.0"/>
<text x="262.10" y="349.50" font-size="3.95" text-anchor="middle" fill="#333" stroke="#333" stroke-width="0.08" >Achromatic</text>
<text x="262.10" y="354.20" font-size="3.95" text-anchor="middle" fill="#333" stroke="#333" stroke-width="0.08" >Metalens</text>
<text x="294.90" y="349.50" font-size="3.95" text-anchor="middle" fill="#333" stroke="#333" stroke-width="0.08" >Diffraction</text>
<text x="295.40" y="354.20" font-size="3.95" text-anchor="middle" fill="#333" stroke="#333" stroke-width="0.08" >Limit</text>
<text x="245.60" y="400.10" font-size="5.9" text-anchor="middle" fill="#1a1a1a" stroke="#1a1a1a" stroke-width="0.16" >−30</text>
<text x="275.60" y="400.10" font-size="5.9" text-anchor="middle" fill="#1a1a1a" stroke="#1a1a1a" stroke-width="0.16" >0</text>
<text x="305.60" y="400.10" font-size="5.9" text-anchor="middle" fill="#1a1a1a" stroke="#1a1a1a" stroke-width="0.16" >30</text>
<text x="275.60" y="407.30" font-size="6.9" text-anchor="middle" fill="#1a1a1a" stroke="#1a1a1a" stroke-width="0.16" >X (μm)</text>
<rect x="315.5" y="344.9" width="60" height="48.60" fill="#fff" stroke="#9a9a9a" stroke-width="0.95"/>
<polyline points="315.60,392.34 316.00,392.25 316.40,392.18 316.80,392.12 317.20,392.08 317.60,392.07 318.00,392.07 318.40,392.09 318.80,392.14 319.20,392.20 319.60,392.27 320.00,392.36 320.40,392.47 320.80,392.58 321.20,392.70 321.60,392.82 322.00,392.94 322.40,393.05 322.80,393.16 323.20,393.25 323.60,393.34 324.00,393.41 324.40,393.46 324.80,393.49 325.20,393.50 325.60,393.46 326.00,393.34 326.40,393.12 326.80,392.81 327.20,392.41 327.60,391.93 328.00,391.36 328.40,390.71 328.80,389.98 329.20,389.17 329.60,388.29 330.00,387.34 330.40,386.31 330.80,385.23 331.20,384.08 331.60,382.88 332.00,381.63 332.40,380.34 332.80,379.00 333.20,377.63 333.60,376.22 334.00,374.79 334.40,373.34 334.80,371.88 335.20,370.41 335.60,368.93 336.00,367.46 336.40,366.00 336.80,364.55 337.20,363.12 337.60,361.71 338.00,360.33 338.40,358.99 338.80,357.69 339.20,356.44 339.60,355.23 340.00,354.08 340.40,352.99 340.80,351.96 341.20,351.00 341.60,350.11 342.00,349.29 342.40,348.55 342.80,347.90 343.20,347.32 343.60,346.83 344.00,346.42 344.40,346.11 344.80,345.88 345.20,345.75 345.60,345.70 346.00,345.75 346.40,345.88 346.80,346.11 347.20,346.42 347.60,346.83 348.00,347.32 348.40,347.90 348.80,348.55 349.20,349.29 349.60,350.11 350.00,351.00 350.40,351.96 350.80,352.99 351.20,354.08 351.60,355.23 352.00,356.44 352.40,357.69 352.80,358.99 353.20,360.33 353.60,361.71 354.00,363.12 354.40,364.55 354.80,366.00 355.20,367.46 355.60,368.93 356.00,370.41 356.40,371.88 356.80,373.34 357.20,374.79 357.60,376.22 358.00,377.63 358.40,379.00 358.80,380.34 359.20,381.63 359.60,382.88 360.00,384.08 360.40,385.23 360.80,386.31 361.20,387.34 361.60,388.29 362.00,389.17 362.40,389.98 362.80,390.71 363.20,391.36 363.60,391.93 364.00,392.41 364.40,392.81 364.80,393.12 365.20,393.34 365.60,393.46 366.00,393.50 366.40,393.49 366.80,393.46 367.20,393.41 367.60,393.34 368.00,393.25 368.40,393.16 368.80,393.05 369.20,392.94 369.60,392.82 370.00,392.70 370.40,392.58 370.80,392.47 371.20,392.36 371.60,392.27 372.00,392.20 372.40,392.14 372.80,392.09 373.20,392.07 373.60,392.07 374.00,392.08 374.40,392.12 374.80,392.18 375.20,392.25 375.60,392.34" fill="none" stroke="#333" stroke-width="0.7"/>
<polyline points="315.60,392.31 316.00,392.23 316.40,392.16 316.80,392.11 317.20,392.08 317.60,392.07 318.00,392.07 318.40,392.10 318.80,392.15 319.20,392.21 319.60,392.29 320.00,392.39 320.40,392.49 320.80,392.61 321.20,392.73 321.60,392.85 322.00,392.96 322.40,393.08 322.80,393.18 323.20,393.28 323.60,393.36 324.00,393.42 324.40,393.47 324.80,393.49 325.20,393.50 325.60,393.44 326.00,393.29 326.40,393.05 326.80,392.73 327.20,392.31 327.60,391.81 328.00,391.23 328.40,390.56 328.80,389.82 329.20,389.00 329.60,388.11 330.00,387.14 330.40,386.11 330.80,385.02 331.20,383.87 331.60,382.67 332.00,381.42 332.40,380.12 332.80,378.78 333.20,377.41 333.60,376.01 334.00,374.59 334.40,373.14 334.80,371.68 335.20,370.22 335.60,368.75 336.00,367.29 336.40,365.83 336.80,364.39 337.20,362.97 337.60,361.57 338.00,360.21 338.40,358.87 338.80,357.58 339.20,356.34 339.60,355.14 340.00,354.00 340.40,352.92 340.80,351.90 341.20,350.95 341.60,350.07 342.00,349.26 342.40,348.53 342.80,347.87 343.20,347.30 343.60,346.82 344.00,346.42 344.40,346.10 344.80,345.88 345.20,345.75 345.60,345.70 346.00,345.75 346.40,345.88 346.80,346.10 347.20,346.42 347.60,346.82 348.00,347.30 348.40,347.87 348.80,348.53 349.20,349.26 349.60,350.07 350.00,350.95 350.40,351.90 350.80,352.92 351.20,354.00 351.60,355.14 352.00,356.34 352.40,357.58 352.80,358.87 353.20,360.21 353.60,361.57 354.00,362.97 354.40,364.39 354.80,365.83 355.20,367.29 355.60,368.75 356.00,370.22 356.40,371.68 356.80,373.14 357.20,374.59 357.60,376.01 358.00,377.41 358.40,378.78 358.80,380.12 359.20,381.42 359.60,382.67 360.00,383.87 360.40,385.02 360.80,386.11 361.20,387.14 361.60,388.11 362.00,389.00 362.40,389.82 362.80,390.56 363.20,391.23 363.60,391.81 364.00,392.31 364.40,392.73 364.80,393.05 365.20,393.29 365.60,393.44 366.00,393.50 366.40,393.49 366.80,393.47 367.20,393.42 367.60,393.36 368.00,393.28 368.40,393.18 368.80,393.08 369.20,392.96 369.60,392.85 370.00,392.73 370.40,392.61 370.80,392.49 371.20,392.39 371.60,392.29 372.00,392.21 372.40,392.15 372.80,392.10 373.20,392.07 373.60,392.07 374.00,392.08 374.40,392.11 374.80,392.16 375.20,392.23 375.60,392.31" fill="none" stroke="#e8262e" stroke-width="1.05" stroke-dasharray="2.2 0.6"/>
<line x1="316.6" y1="351.00" x2="322.20000000000005" y2="351.00" stroke="#e8343a" stroke-width="0.9" stroke-dasharray="2 1.4"/>
<line x1="351.1" y1="351.40" x2="356.5" y2="351.40" stroke="#333" stroke-width="1.0"/>
<text x="332.10" y="349.50" font-size="3.95" text-anchor="middle" fill="#333" stroke="#333" stroke-width="0.08" >Achromatic</text>
<text x="332.10" y="354.20" font-size="3.95" text-anchor="middle" fill="#333" stroke="#333" stroke-width="0.08" >Metalens</text>
<text x="364.90" y="349.50" font-size="3.95" text-anchor="middle" fill="#333" stroke="#333" stroke-width="0.08" >Diffraction</text>
<text x="365.40" y="354.20" font-size="3.95" text-anchor="middle" fill="#333" stroke="#333" stroke-width="0.08" >Limit</text>
<text x="315.60" y="400.10" font-size="5.9" text-anchor="middle" fill="#1a1a1a" stroke="#1a1a1a" stroke-width="0.16" >−30</text>
<text x="345.60" y="400.10" font-size="5.9" text-anchor="middle" fill="#1a1a1a" stroke="#1a1a1a" stroke-width="0.16" >0</text>
<text x="375.60" y="400.10" font-size="5.9" text-anchor="middle" fill="#1a1a1a" stroke="#1a1a1a" stroke-width="0.16" >30</text>
<text x="345.60" y="407.30" font-size="6.9" text-anchor="middle" fill="#1a1a1a" stroke="#1a1a1a" stroke-width="0.16" >X (μm)</text>
<text x="34.60" y="395.70" font-size="6.0" text-anchor="end" fill="#1a1a1a" stroke="#1a1a1a" stroke-width="0.16" >0.0</text>
<text x="34.60" y="371.80" font-size="6.0" text-anchor="end" fill="#1a1a1a" stroke="#1a1a1a" stroke-width="0.16" >0.5</text>
<text x="34.60" y="347.90" font-size="6.0" text-anchor="end" fill="#1a1a1a" stroke="#1a1a1a" stroke-width="0.16" >1.0</text>
<text transform="translate(22.2 369.20) rotate(-90)" font-size="6.8" text-anchor="middle" fill="#1a1a1a" stroke="#1a1a1a" stroke-width="0.16">Intensity (a.u.)</text>
<rect x="35.5" y="481.6" width="60" height="48.90" fill="#fff" stroke="#9a9a9a" stroke-width="0.95"/>
<polyline points="35.60,530.50 36.00,530.49 36.40,530.47 36.80,530.42 37.20,530.36 37.60,530.28 38.00,530.19 38.40,530.09 38.80,529.97 39.20,529.85 39.60,529.73 40.00,529.61 40.40,529.50 40.80,529.39 41.20,529.30 41.60,529.21 42.00,529.15 42.40,529.10 42.80,529.07 43.20,529.06 43.60,529.07 44.00,529.10 44.40,529.15 44.80,529.21 45.20,529.30 45.60,529.39 46.00,529.50 46.40,529.61 46.80,529.73 47.20,529.85 47.60,529.97 48.00,530.09 48.40,530.19 48.80,530.28 49.20,530.36 49.60,530.42 50.00,530.47 50.40,530.49 50.80,530.49 51.20,530.37 51.60,530.07 52.00,529.60 52.40,528.97 52.80,528.18 53.20,527.24 53.60,526.14 54.00,524.91 54.40,523.55 54.80,522.06 55.20,520.46 55.60,518.77 56.00,516.98 56.40,515.12 56.80,513.20 57.20,511.24 57.60,509.23 58.00,507.21 58.40,505.18 58.80,503.16 59.20,501.17 59.60,499.21 60.00,497.31 60.40,495.46 60.80,493.70 61.20,492.03 61.60,490.46 62.00,489.00 62.40,487.67 62.80,486.47 63.20,485.41 63.60,484.51 64.00,483.76 64.40,483.17 64.80,482.74 65.20,482.49 65.60,482.40 66.00,482.49 66.40,482.74 66.80,483.17 67.20,483.76 67.60,484.51 68.00,485.41 68.40,486.47 68.80,487.67 69.20,489.00 69.60,490.46 70.00,492.03 70.40,493.70 70.80,495.46 71.20,497.31 71.60,499.21 72.00,501.17 72.40,503.16 72.80,505.18 73.20,507.21 73.60,509.23 74.00,511.24 74.40,513.20 74.80,515.12 75.20,516.98 75.60,518.77 76.00,520.46 76.40,522.06 76.80,523.55 77.20,524.91 77.60,526.14 78.00,527.24 78.40,528.18 78.80,528.97 79.20,529.60 79.60,530.07 80.00,530.37 80.40,530.49 80.80,530.49 81.20,530.47 81.60,530.42 82.00,530.36 82.40,530.28 82.80,530.19 83.20,530.09 83.60,529.97 84.00,529.85 84.40,529.73 84.80,529.61 85.20,529.50 85.60,529.39 86.00,529.30 86.40,529.21 86.80,529.15 87.20,529.10 87.60,529.07 88.00,529.06 88.40,529.07 88.80,529.10 89.20,529.15 89.60,529.21 90.00,529.30 90.40,529.39 90.80,529.50 91.20,529.61 91.60,529.73 92.00,529.85 92.40,529.97 92.80,530.09 93.20,530.19 93.60,530.28 94.00,530.36 94.40,530.42 94.80,530.47 95.20,530.49 95.60,530.50" fill="none" stroke="#333" stroke-width="0.7"/>
<polyline points="35.60,530.05 36.00,529.95 36.40,529.85 36.80,529.74 37.20,529.62 37.60,529.49 38.00,529.35 38.40,529.20 38.80,529.05 39.20,528.89 39.60,528.73 40.00,528.57 40.40,528.40 40.80,528.24 41.20,528.07 41.60,527.91 42.00,527.75 42.40,527.60 42.80,527.45 43.20,527.30 43.60,527.17 44.00,527.04 44.40,526.91 44.80,526.80 45.20,526.69 45.60,526.59 46.00,526.50 46.40,526.41 46.80,526.33 47.20,526.26 47.60,526.19 48.00,526.13 48.40,526.08 48.80,526.03 49.20,525.98 49.60,525.94 50.00,525.91 50.40,525.84 50.80,525.63 51.20,525.29 51.60,524.81 52.00,524.20 52.40,523.46 52.80,522.60 53.20,521.61 53.60,520.51 54.00,519.31 54.40,518.01 54.80,516.61 55.20,515.14 55.60,513.59 56.00,511.98 56.40,510.32 56.80,508.62 57.20,506.89 57.60,505.15 58.00,503.39 58.40,501.64 58.80,499.90 59.20,498.20 59.60,496.53 60.00,494.91 60.40,493.35 60.80,491.86 61.20,490.45 61.60,489.13 62.00,487.91 62.40,486.80 62.80,485.79 63.20,484.91 63.60,484.15 64.00,483.53 64.40,483.04 64.80,482.68 65.20,482.47 65.60,482.40 66.00,482.47 66.40,482.68 66.80,483.04 67.20,483.53 67.60,484.15 68.00,484.91 68.40,485.79 68.80,486.80 69.20,487.91 69.60,489.13 70.00,490.45 70.40,491.86 70.80,493.35 71.20,494.91 71.60,496.53 72.00,498.20 72.40,499.90 72.80,501.64 73.20,503.39 73.60,505.15 74.00,506.89 74.40,508.62 74.80,510.32 75.20,511.98 75.60,513.59 76.00,515.14 76.40,516.61 76.80,518.01 77.20,519.31 77.60,520.51 78.00,521.61 78.40,522.60 78.80,523.46 79.20,524.20 79.60,524.81 80.00,525.29 80.40,525.63 80.80,525.84 81.20,525.91 81.60,525.94 82.00,525.98 82.40,526.03 82.80,526.08 83.20,526.13 83.60,526.19 84.00,526.26 84.40,526.33 84.80,526.41 85.20,526.50 85.60,526.59 86.00,526.69 86.40,526.80 86.80,526.91 87.20,527.04 87.60,527.17 88.00,527.30 88.40,527.45 88.80,527.60 89.20,527.75 89.60,527.91 90.00,528.07 90.40,528.24 90.80,528.40 91.20,528.57 91.60,528.73 92.00,528.89 92.40,529.05 92.80,529.20 93.20,529.35 93.60,529.49 94.00,529.62 94.40,529.74 94.80,529.85 95.20,529.95 95.60,530.05" fill="none" stroke="#e8262e" stroke-width="1.05" stroke-dasharray="2.2 0.6"/>
<line x1="36.6" y1="487.70" x2="42.2" y2="487.70" stroke="#e8343a" stroke-width="0.9" stroke-dasharray="2 1.4"/>
<line x1="71.1" y1="488.10" x2="76.5" y2="488.10" stroke="#333" stroke-width="1.0"/>
<text x="51.60" y="486.60" font-size="3.95" text-anchor="middle" fill="#333" stroke="#333" stroke-width="0.08" >PB</text>
<text x="51.00" y="491.50" font-size="3.95" text-anchor="middle" fill="#333" stroke="#333" stroke-width="0.08" >Metalens</text>
<text x="84.90" y="486.20" font-size="3.95" text-anchor="middle" fill="#333" stroke="#333" stroke-width="0.08" >Diffraction</text>
<text x="85.40" y="490.90" font-size="3.95" text-anchor="middle" fill="#333" stroke="#333" stroke-width="0.08" >Limit</text>
<text x="35.60" y="537.10" font-size="5.9" text-anchor="middle" fill="#1a1a1a" stroke="#1a1a1a" stroke-width="0.16" >−30</text>
<text x="65.60" y="537.10" font-size="5.9" text-anchor="middle" fill="#1a1a1a" stroke="#1a1a1a" stroke-width="0.16" >0</text>
<text x="95.60" y="537.10" font-size="5.9" text-anchor="middle" fill="#1a1a1a" stroke="#1a1a1a" stroke-width="0.16" >30</text>
<text x="65.60" y="544.30" font-size="6.9" text-anchor="middle" fill="#1a1a1a" stroke="#1a1a1a" stroke-width="0.16" >X (μm)</text>
<rect x="105.5" y="481.6" width="60" height="48.90" fill="#fff" stroke="#9a9a9a" stroke-width="0.95"/>
<polyline points="105.60,530.41 106.00,530.34 106.40,530.26 106.80,530.16 107.20,530.06 107.60,529.94 108.00,529.82 108.40,529.70 108.80,529.58 109.20,529.47 109.60,529.37 110.00,529.27 110.40,529.19 110.80,529.13 111.20,529.09 111.60,529.06 112.00,529.06 112.40,529.07 112.80,529.11 113.20,529.16 113.60,529.23 114.00,529.32 114.40,529.42 114.80,529.53 115.20,529.64 115.60,529.76 116.00,529.88 116.40,530.00 116.80,530.11 117.20,530.22 117.60,530.30 118.00,530.38 118.40,530.44 118.80,530.48 119.20,530.50 119.60,530.48 120.00,530.34 120.40,530.05 120.80,529.62 121.20,529.05 121.60,528.34 122.00,527.50 122.40,526.54 122.80,525.45 123.20,524.26 123.60,522.95 124.00,521.54 124.40,520.05 124.80,518.47 125.20,516.82 125.60,515.11 126.00,513.34 126.40,511.54 126.80,509.70 127.20,507.84 127.60,505.98 128.00,504.12 128.40,502.27 128.80,500.45 129.20,498.66 129.60,496.92 130.00,495.24 130.40,493.62 130.80,492.09 131.20,490.63 131.60,489.28 132.00,488.03 132.40,486.88 132.80,485.86 133.20,484.96 133.60,484.19 134.00,483.55 134.40,483.05 134.80,482.69 135.20,482.47 135.60,482.40 136.00,482.47 136.40,482.69 136.80,483.05 137.20,483.55 137.60,484.19 138.00,484.96 138.40,485.86 138.80,486.88 139.20,488.03 139.60,489.28 140.00,490.63 140.40,492.09 140.80,493.62 141.20,495.24 141.60,496.92 142.00,498.66 142.40,500.45 142.80,502.27 143.20,504.12 143.60,505.98 144.00,507.84 144.40,509.70 144.80,511.54 145.20,513.34 145.60,515.11 146.00,516.82 146.40,518.47 146.80,520.05 147.20,521.54 147.60,522.95 148.00,524.26 148.40,525.45 148.80,526.54 149.20,527.50 149.60,528.34 150.00,529.05 150.40,529.62 150.80,530.05 151.20,530.34 151.60,530.48 152.00,530.50 152.40,530.48 152.80,530.44 153.20,530.38 153.60,530.30 154.00,530.22 154.40,530.11 154.80,530.00 155.20,529.88 155.60,529.76 156.00,529.64 156.40,529.53 156.80,529.42 157.20,529.32 157.60,529.23 158.00,529.16 158.40,529.11 158.80,529.07 159.20,529.06 159.60,529.06 160.00,529.09 160.40,529.13 160.80,529.19 161.20,529.27 161.60,529.37 162.00,529.47 162.40,529.58 162.80,529.70 163.20,529.82 163.60,529.94 164.00,530.06 164.40,530.16 164.80,530.26 165.20,530.34 165.60,530.41" fill="none" stroke="#333" stroke-width="0.7"/>
<polyline points="105.60,530.40 106.00,530.33 106.40,530.24 106.80,530.14 107.20,530.03 107.60,529.92 108.00,529.80 108.40,529.68 108.80,529.56 109.20,529.45 109.60,529.35 110.00,529.26 110.40,529.18 110.80,529.12 111.20,529.08 111.60,529.06 112.00,529.06 112.40,529.08 112.80,529.12 113.20,529.17 113.60,529.25 114.00,529.34 114.40,529.44 114.80,529.55 115.20,529.67 115.60,529.79 116.00,529.91 116.40,530.03 116.80,530.13 117.20,530.23 117.60,530.32 118.00,530.39 118.40,530.45 118.80,530.48 119.20,530.50 119.60,530.46 120.00,530.29 120.40,529.98 120.80,529.52 121.20,528.93 121.60,528.20 122.00,527.35 122.40,526.37 122.80,525.27 123.20,524.06 123.60,522.75 124.00,521.33 124.40,519.83 124.80,518.25 125.20,516.60 125.60,514.89 126.00,513.13 126.40,511.33 126.80,509.50 127.20,507.65 127.60,505.79 128.00,503.94 128.40,502.11 128.80,500.29 129.20,498.52 129.60,496.79 130.00,495.12 130.40,493.52 130.80,492.00 131.20,490.56 131.60,489.21 132.00,487.97 132.40,486.84 132.80,485.82 133.20,484.93 133.60,484.17 134.00,483.54 134.40,483.04 134.80,482.69 135.20,482.47 135.60,482.40 136.00,482.47 136.40,482.69 136.80,483.04 137.20,483.54 137.60,484.17 138.00,484.93 138.40,485.82 138.80,486.84 139.20,487.97 139.60,489.21 140.00,490.56 140.40,492.00 140.80,493.52 141.20,495.12 141.60,496.79 142.00,498.52 142.40,500.29 142.80,502.11 143.20,503.94 143.60,505.79 144.00,507.65 144.40,509.50 144.80,511.33 145.20,513.13 145.60,514.89 146.00,516.60 146.40,518.25 146.80,519.83 147.20,521.33 147.60,522.75 148.00,524.06 148.40,525.27 148.80,526.37 149.20,527.35 149.60,528.20 150.00,528.93 150.40,529.52 150.80,529.98 151.20,530.29 151.60,530.46 152.00,530.50 152.40,530.48 152.80,530.45 153.20,530.39 153.60,530.32 154.00,530.23 154.40,530.13 154.80,530.03 155.20,529.91 155.60,529.79 156.00,529.67 156.40,529.55 156.80,529.44 157.20,529.34 157.60,529.25 158.00,529.17 158.40,529.12 158.80,529.08 159.20,529.06 159.60,529.06 160.00,529.08 160.40,529.12 160.80,529.18 161.20,529.26 161.60,529.35 162.00,529.45 162.40,529.56 162.80,529.68 163.20,529.80 163.60,529.92 164.00,530.03 164.40,530.14 164.80,530.24 165.20,530.33 165.60,530.40" fill="none" stroke="#e8262e" stroke-width="1.05" stroke-dasharray="2.2 0.6"/>
<line x1="106.6" y1="487.70" x2="112.19999999999999" y2="487.70" stroke="#e8343a" stroke-width="0.9" stroke-dasharray="2 1.4"/>
<line x1="141.1" y1="488.10" x2="146.5" y2="488.10" stroke="#333" stroke-width="1.0"/>
<text x="121.60" y="486.60" font-size="3.95" text-anchor="middle" fill="#333" stroke="#333" stroke-width="0.08" >PB</text>
<text x="121.00" y="491.50" font-size="3.95" text-anchor="middle" fill="#333" stroke="#333" stroke-width="0.08" >Metalens</text>
<text x="154.90" y="486.20" font-size="3.95" text-anchor="middle" fill="#333" stroke="#333" stroke-width="0.08" >Diffraction</text>
<text x="155.40" y="490.90" font-size="3.95" text-anchor="middle" fill="#333" stroke="#333" stroke-width="0.08" >Limit</text>
<text x="105.60" y="537.10" font-size="5.9" text-anchor="middle" fill="#1a1a1a" stroke="#1a1a1a" stroke-width="0.16" >−30</text>
<text x="135.60" y="537.10" font-size="5.9" text-anchor="middle" fill="#1a1a1a" stroke="#1a1a1a" stroke-width="0.16" >0</text>
<text x="165.60" y="537.10" font-size="5.9" text-anchor="middle" fill="#1a1a1a" stroke="#1a1a1a" stroke-width="0.16" >30</text>
<text x="135.60" y="544.30" font-size="6.9" text-anchor="middle" fill="#1a1a1a" stroke="#1a1a1a" stroke-width="0.16" >X (μm)</text>
<rect x="175.5" y="481.6" width="60" height="48.90" fill="#fff" stroke="#9a9a9a" stroke-width="0.95"/>
<polyline points="175.60,530.13 176.00,530.02 176.40,529.90 176.80,529.78 177.20,529.66 177.60,529.54 178.00,529.43 178.40,529.33 178.80,529.24 179.20,529.17 179.60,529.11 180.00,529.08 180.40,529.06 180.80,529.06 181.20,529.08 181.60,529.13 182.00,529.19 182.40,529.26 182.80,529.35 183.20,529.46 183.60,529.57 184.00,529.69 184.40,529.81 184.80,529.93 185.20,530.04 185.60,530.15 186.00,530.25 186.40,530.33 186.80,530.40 187.20,530.45 187.60,530.49 188.00,530.50 188.40,530.45 188.80,530.29 189.20,529.99 189.60,529.58 190.00,529.05 190.40,528.41 190.80,527.65 191.20,526.78 191.60,525.81 192.00,524.74 192.40,523.58 192.80,522.33 193.20,520.99 193.60,519.58 194.00,518.11 194.40,516.57 194.80,514.99 195.20,513.36 195.60,511.69 196.00,510.00 196.40,508.29 196.80,506.56 197.20,504.84 197.60,503.13 198.00,501.43 198.40,499.76 198.80,498.13 199.20,496.54 199.60,494.99 200.00,493.51 200.40,492.09 200.80,490.75 201.20,489.48 201.60,488.31 202.00,487.23 202.40,486.24 202.80,485.36 203.20,484.59 203.60,483.93 204.00,483.38 204.40,482.95 204.80,482.65 205.20,482.46 205.60,482.40 206.00,482.46 206.40,482.65 206.80,482.95 207.20,483.38 207.60,483.93 208.00,484.59 208.40,485.36 208.80,486.24 209.20,487.23 209.60,488.31 210.00,489.48 210.40,490.75 210.80,492.09 211.20,493.51 211.60,494.99 212.00,496.54 212.40,498.13 212.80,499.76 213.20,501.43 213.60,503.13 214.00,504.84 214.40,506.56 214.80,508.29 215.20,510.00 215.60,511.69 216.00,513.36 216.40,514.99 216.80,516.57 217.20,518.11 217.60,519.58 218.00,520.99 218.40,522.33 218.80,523.58 219.20,524.74 219.60,525.81 220.00,526.78 220.40,527.65 220.80,528.41 221.20,529.05 221.60,529.58 222.00,529.99 222.40,530.29 222.80,530.45 223.20,530.50 223.60,530.49 224.00,530.45 224.40,530.40 224.80,530.33 225.20,530.25 225.60,530.15 226.00,530.04 226.40,529.93 226.80,529.81 227.20,529.69 227.60,529.57 228.00,529.46 228.40,529.35 228.80,529.26 229.20,529.19 229.60,529.13 230.00,529.08 230.40,529.06 230.80,529.06 231.20,529.08 231.60,529.11 232.00,529.17 232.40,529.24 232.80,529.33 233.20,529.43 233.60,529.54 234.00,529.66 234.40,529.78 234.80,529.90 235.20,530.02 235.60,530.13" fill="none" stroke="#333" stroke-width="0.7"/>
<polyline points="175.60,530.10 176.00,529.99 176.40,529.87 176.80,529.75 177.20,529.63 177.60,529.52 178.00,529.41 178.40,529.31 178.80,529.23 179.20,529.16 179.60,529.10 180.00,529.07 180.40,529.06 180.80,529.06 181.20,529.09 181.60,529.14 182.00,529.20 182.40,529.28 182.80,529.38 183.20,529.48 183.60,529.59 184.00,529.71 184.40,529.83 184.80,529.95 185.20,530.07 185.60,530.17 186.00,530.27 186.40,530.35 186.80,530.42 187.20,530.46 187.60,530.49 188.00,530.50 188.40,530.43 188.80,530.23 189.20,529.92 189.60,529.49 190.00,528.94 190.40,528.27 190.80,527.50 191.20,526.62 191.60,525.63 192.00,524.55 192.40,523.38 192.80,522.12 193.20,520.78 193.60,519.37 194.00,517.89 194.40,516.36 194.80,514.77 195.20,513.14 195.60,511.48 196.00,509.79 196.40,508.09 196.80,506.38 197.20,504.66 197.60,502.96 198.00,501.28 198.40,499.62 198.80,497.99 199.20,496.41 199.60,494.88 200.00,493.41 200.40,492.00 200.80,490.67 201.20,489.42 201.60,488.25 202.00,487.18 202.40,486.20 202.80,485.33 203.20,484.57 203.60,483.91 204.00,483.37 204.40,482.95 204.80,482.64 205.20,482.46 205.60,482.40 206.00,482.46 206.40,482.64 206.80,482.95 207.20,483.37 207.60,483.91 208.00,484.57 208.40,485.33 208.80,486.20 209.20,487.18 209.60,488.25 210.00,489.42 210.40,490.67 210.80,492.00 211.20,493.41 211.60,494.88 212.00,496.41 212.40,497.99 212.80,499.62 213.20,501.28 213.60,502.96 214.00,504.66 214.40,506.38 214.80,508.09 215.20,509.79 215.60,511.48 216.00,513.14 216.40,514.77 216.80,516.36 217.20,517.89 217.60,519.37 218.00,520.78 218.40,522.12 218.80,523.38 219.20,524.55 219.60,525.63 220.00,526.62 220.40,527.50 220.80,528.27 221.20,528.94 221.60,529.49 222.00,529.92 222.40,530.23 222.80,530.43 223.20,530.50 223.60,530.49 224.00,530.46 224.40,530.42 224.80,530.35 225.20,530.27 225.60,530.17 226.00,530.07 226.40,529.95 226.80,529.83 227.20,529.71 227.60,529.59 228.00,529.48 228.40,529.38 228.80,529.28 229.20,529.20 229.60,529.14 230.00,529.09 230.40,529.06 230.80,529.06 231.20,529.07 231.60,529.10 232.00,529.16 232.40,529.23 232.80,529.31 233.20,529.41 233.60,529.52 234.00,529.63 234.40,529.75 234.80,529.87 235.20,529.99 235.60,530.10" fill="none" stroke="#e8262e" stroke-width="1.05" stroke-dasharray="2.2 0.6"/>
<line x1="176.6" y1="487.70" x2="182.2" y2="487.70" stroke="#e8343a" stroke-width="0.9" stroke-dasharray="2 1.4"/>
<line x1="211.1" y1="488.10" x2="216.5" y2="488.10" stroke="#333" stroke-width="1.0"/>
<text x="191.60" y="486.60" font-size="3.95" text-anchor="middle" fill="#333" stroke="#333" stroke-width="0.08" >PB</text>
<text x="191.00" y="491.50" font-size="3.95" text-anchor="middle" fill="#333" stroke="#333" stroke-width="0.08" >Metalens</text>
<text x="224.90" y="486.20" font-size="3.95" text-anchor="middle" fill="#333" stroke="#333" stroke-width="0.08" >Diffraction</text>
<text x="225.40" y="490.90" font-size="3.95" text-anchor="middle" fill="#333" stroke="#333" stroke-width="0.08" >Limit</text>
<text x="175.60" y="537.10" font-size="5.9" text-anchor="middle" fill="#1a1a1a" stroke="#1a1a1a" stroke-width="0.16" >−30</text>
<text x="205.60" y="537.10" font-size="5.9" text-anchor="middle" fill="#1a1a1a" stroke="#1a1a1a" stroke-width="0.16" >0</text>
<text x="235.60" y="537.10" font-size="5.9" text-anchor="middle" fill="#1a1a1a" stroke="#1a1a1a" stroke-width="0.16" >30</text>
<text x="205.60" y="544.30" font-size="6.9" text-anchor="middle" fill="#1a1a1a" stroke="#1a1a1a" stroke-width="0.16" >X (μm)</text>
<rect x="245.5" y="481.6" width="60" height="48.90" fill="#fff" stroke="#9a9a9a" stroke-width="0.95"/>
<polyline points="245.60,529.72 246.00,529.60 246.40,529.49 246.80,529.38 247.20,529.29 247.60,529.21 248.00,529.14 248.40,529.09 248.80,529.07 249.20,529.06 249.60,529.07 250.00,529.10 250.40,529.15 250.80,529.22 251.20,529.30 251.60,529.40 252.00,529.51 252.40,529.62 252.80,529.74 253.20,529.86 253.60,529.98 254.00,530.09 254.40,530.20 254.80,530.29 255.20,530.37 255.60,530.43 256.00,530.47 256.40,530.50 256.80,530.49 257.20,530.41 257.60,530.21 258.00,529.91 258.40,529.51 258.80,529.01 259.20,528.41 259.60,527.71 260.00,526.91 260.40,526.03 260.80,525.06 261.20,524.01 261.60,522.88 262.00,521.68 262.40,520.41 262.80,519.08 263.20,517.70 263.60,516.26 264.00,514.79 264.40,513.27 264.80,511.73 265.20,510.16 265.60,508.58 266.00,506.98 266.40,505.39 266.80,503.80 267.20,502.22 267.60,500.66 268.00,499.12 268.40,497.62 268.80,496.15 269.20,494.73 269.60,493.37 270.00,492.06 270.40,490.81 270.80,489.63 271.20,488.53 271.60,487.51 272.00,486.56 272.40,485.71 272.80,484.95 273.20,484.28 273.60,483.71 274.00,483.24 274.40,482.88 274.80,482.61 275.20,482.45 275.60,482.40 276.00,482.45 276.40,482.61 276.80,482.88 277.20,483.24 277.60,483.71 278.00,484.28 278.40,484.95 278.80,485.71 279.20,486.56 279.60,487.51 280.00,488.53 280.40,489.63 280.80,490.81 281.20,492.06 281.60,493.37 282.00,494.73 282.40,496.15 282.80,497.62 283.20,499.12 283.60,500.66 284.00,502.22 284.40,503.80 284.80,505.39 285.20,506.98 285.60,508.58 286.00,510.16 286.40,511.73 286.80,513.27 287.20,514.79 287.60,516.26 288.00,517.70 288.40,519.08 288.80,520.41 289.20,521.68 289.60,522.88 290.00,524.01 290.40,525.06 290.80,526.03 291.20,526.91 291.60,527.71 292.00,528.41 292.40,529.01 292.80,529.51 293.20,529.91 293.60,530.21 294.00,530.41 294.40,530.49 294.80,530.50 295.20,530.47 295.60,530.43 296.00,530.37 296.40,530.29 296.80,530.20 297.20,530.09 297.60,529.98 298.00,529.86 298.40,529.74 298.80,529.62 299.20,529.51 299.60,529.40 300.00,529.30 300.40,529.22 300.80,529.15 301.20,529.10 301.60,529.07 302.00,529.06 302.40,529.07 302.80,529.09 303.20,529.14 303.60,529.21 304.00,529.29 304.40,529.38 304.80,529.49 305.20,529.60 305.60,529.72" fill="none" stroke="#333" stroke-width="0.7"/>
<polyline points="245.60,529.69 246.00,529.58 246.40,529.46 246.80,529.36 247.20,529.27 247.60,529.19 248.00,529.13 248.40,529.09 248.80,529.06 249.20,529.06 249.60,529.07 250.00,529.11 250.40,529.17 250.80,529.24 251.20,529.33 251.60,529.43 252.00,529.53 252.40,529.65 252.80,529.77 253.20,529.89 253.60,530.01 254.00,530.12 254.40,530.22 254.80,530.31 255.20,530.38 255.60,530.44 256.00,530.48 256.40,530.50 256.80,530.48 257.20,530.37 257.60,530.15 258.00,529.83 258.40,529.41 258.80,528.89 259.20,528.27 259.60,527.56 260.00,526.75 260.40,525.85 260.80,524.87 261.20,523.81 261.60,522.68 262.00,521.47 262.40,520.20 262.80,518.87 263.20,517.48 263.60,516.05 264.00,514.57 264.40,513.06 264.80,511.52 265.20,509.96 265.60,508.38 266.00,506.79 266.40,505.20 266.80,503.62 267.20,502.05 267.60,500.50 268.00,498.98 268.40,497.48 268.80,496.03 269.20,494.62 269.60,493.27 270.00,491.97 270.40,490.73 270.80,489.57 271.20,488.47 271.60,487.46 272.00,486.52 272.40,485.68 272.80,484.92 273.20,484.26 273.60,483.70 274.00,483.23 274.40,482.87 274.80,482.61 275.20,482.45 275.60,482.40 276.00,482.45 276.40,482.61 276.80,482.87 277.20,483.23 277.60,483.70 278.00,484.26 278.40,484.92 278.80,485.68 279.20,486.52 279.60,487.46 280.00,488.47 280.40,489.57 280.80,490.73 281.20,491.97 281.60,493.27 282.00,494.62 282.40,496.03 282.80,497.48 283.20,498.98 283.60,500.50 284.00,502.05 284.40,503.62 284.80,505.20 285.20,506.79 285.60,508.38 286.00,509.96 286.40,511.52 286.80,513.06 287.20,514.57 287.60,516.05 288.00,517.48 288.40,518.87 288.80,520.20 289.20,521.47 289.60,522.68 290.00,523.81 290.40,524.87 290.80,525.85 291.20,526.75 291.60,527.56 292.00,528.27 292.40,528.89 292.80,529.41 293.20,529.83 293.60,530.15 294.00,530.37 294.40,530.48 294.80,530.50 295.20,530.48 295.60,530.44 296.00,530.38 296.40,530.31 296.80,530.22 297.20,530.12 297.60,530.01 298.00,529.89 298.40,529.77 298.80,529.65 299.20,529.53 299.60,529.43 300.00,529.33 300.40,529.24 300.80,529.17 301.20,529.11 301.60,529.07 302.00,529.06 302.40,529.06 302.80,529.09 303.20,529.13 303.60,529.19 304.00,529.27 304.40,529.36 304.80,529.46 305.20,529.58 305.60,529.69" fill="none" stroke="#e8262e" stroke-width="1.05" stroke-dasharray="2.2 0.6"/>
<line x1="246.6" y1="487.70" x2="252.2" y2="487.70" stroke="#e8343a" stroke-width="0.9" stroke-dasharray="2 1.4"/>
<line x1="281.1" y1="488.10" x2="286.5" y2="488.10" stroke="#333" stroke-width="1.0"/>
<text x="261.60" y="486.60" font-size="3.95" text-anchor="middle" fill="#333" stroke="#333" stroke-width="0.08" >PB</text>
<text x="261.00" y="491.50" font-size="3.95" text-anchor="middle" fill="#333" stroke="#333" stroke-width="0.08" >Metalens</text>
<text x="294.90" y="486.20" font-size="3.95" text-anchor="middle" fill="#333" stroke="#333" stroke-width="0.08" >Diffraction</text>
<text x="295.40" y="490.90" font-size="3.95" text-anchor="middle" fill="#333" stroke="#333" stroke-width="0.08" >Limit</text>
<text x="245.60" y="537.10" font-size="5.9" text-anchor="middle" fill="#1a1a1a" stroke="#1a1a1a" stroke-width="0.16" >−30</text>
<text x="275.60" y="537.10" font-size="5.9" text-anchor="middle" fill="#1a1a1a" stroke="#1a1a1a" stroke-width="0.16" >0</text>
<text x="305.60" y="537.10" font-size="5.9" text-anchor="middle" fill="#1a1a1a" stroke="#1a1a1a" stroke-width="0.16" >30</text>
<text x="275.60" y="544.30" font-size="6.9" text-anchor="middle" fill="#1a1a1a" stroke="#1a1a1a" stroke-width="0.16" >X (μm)</text>
<rect x="315.5" y="481.6" width="60" height="48.90" fill="#fff" stroke="#9a9a9a" stroke-width="0.95"/>
<polyline points="315.60,529.33 316.00,529.24 316.40,529.17 316.80,529.11 317.20,529.08 317.60,529.06 318.00,529.06 318.40,529.08 318.80,529.13 319.20,529.19 319.60,529.27 320.00,529.36 320.40,529.46 320.80,529.57 321.20,529.69 321.60,529.81 322.00,529.93 322.40,530.05 322.80,530.16 323.20,530.25 323.60,530.34 324.00,530.40 324.40,530.46 324.80,530.49 325.20,530.50 325.60,530.46 326.00,530.33 326.40,530.12 326.80,529.81 327.20,529.41 327.60,528.92 328.00,528.35 328.40,527.70 328.80,526.96 329.20,526.15 329.60,525.26 330.00,524.30 330.40,523.27 330.80,522.18 331.20,521.03 331.60,519.82 332.00,518.56 332.40,517.25 332.80,515.91 333.20,514.53 333.60,513.11 334.00,511.68 334.40,510.22 334.80,508.75 335.20,507.26 335.60,505.78 336.00,504.30 336.40,502.83 336.80,501.37 337.20,499.93 337.60,498.51 338.00,497.13 338.40,495.78 338.80,494.47 339.20,493.20 339.60,491.99 340.00,490.83 340.40,489.73 340.80,488.70 341.20,487.73 341.60,486.84 342.00,486.02 342.40,485.27 342.80,484.61 343.20,484.03 343.60,483.54 344.00,483.13 344.40,482.81 344.80,482.58 345.20,482.45 345.60,482.40 346.00,482.45 346.40,482.58 346.80,482.81 347.20,483.13 347.60,483.54 348.00,484.03 348.40,484.61 348.80,485.27 349.20,486.02 349.60,486.84 350.00,487.73 350.40,488.70 350.80,489.73 351.20,490.83 351.60,491.99 352.00,493.20 352.40,494.47 352.80,495.78 353.20,497.13 353.60,498.51 354.00,499.93 354.40,501.37 354.80,502.83 355.20,504.30 355.60,505.78 356.00,507.26 356.40,508.75 356.80,510.22 357.20,511.68 357.60,513.11 358.00,514.53 358.40,515.91 358.80,517.25 359.20,518.56 359.60,519.82 360.00,521.03 360.40,522.18 360.80,523.27 361.20,524.30 361.60,525.26 362.00,526.15 362.40,526.96 362.80,527.70 363.20,528.35 363.60,528.92 364.00,529.41 364.40,529.81 364.80,530.12 365.20,530.33 365.60,530.46 366.00,530.50 366.40,530.49 366.80,530.46 367.20,530.40 367.60,530.34 368.00,530.25 368.40,530.16 368.80,530.05 369.20,529.93 369.60,529.81 370.00,529.69 370.40,529.57 370.80,529.46 371.20,529.36 371.60,529.27 372.00,529.19 372.40,529.13 372.80,529.08 373.20,529.06 373.60,529.06 374.00,529.08 374.40,529.11 374.80,529.17 375.20,529.24 375.60,529.33" fill="none" stroke="#333" stroke-width="0.7"/>
<polyline points="315.60,529.30 316.00,529.22 316.40,529.15 316.80,529.10 317.20,529.07 317.60,529.06 318.00,529.07 318.40,529.09 318.80,529.14 319.20,529.21 319.60,529.29 320.00,529.38 320.40,529.49 320.80,529.60 321.20,529.72 321.60,529.84 322.00,529.96 322.40,530.08 322.80,530.18 323.20,530.28 323.60,530.36 324.00,530.42 324.40,530.47 324.80,530.49 325.20,530.50 325.60,530.44 326.00,530.29 326.40,530.05 326.80,529.72 327.20,529.30 327.60,528.80 328.00,528.21 328.40,527.55 328.80,526.80 329.20,525.97 329.60,525.07 330.00,524.10 330.40,523.07 330.80,521.97 331.20,520.81 331.60,519.60 332.00,518.34 332.40,517.04 332.80,515.69 333.20,514.31 333.60,512.90 334.00,511.47 334.40,510.01 334.80,508.55 335.20,507.07 335.60,505.60 336.00,504.12 336.40,502.66 336.80,501.21 337.20,499.78 337.60,498.37 338.00,497.00 338.40,495.66 338.80,494.36 339.20,493.11 339.60,491.90 340.00,490.75 340.40,489.67 340.80,488.64 341.20,487.68 341.60,486.79 342.00,485.98 342.40,485.24 342.80,484.59 343.20,484.01 343.60,483.52 344.00,483.12 344.40,482.81 344.80,482.58 345.20,482.45 345.60,482.40 346.00,482.45 346.40,482.58 346.80,482.81 347.20,483.12 347.60,483.52 348.00,484.01 348.40,484.59 348.80,485.24 349.20,485.98 349.60,486.79 350.00,487.68 350.40,488.64 350.80,489.67 351.20,490.75 351.60,491.90 352.00,493.11 352.40,494.36 352.80,495.66 353.20,497.00 353.60,498.37 354.00,499.78 354.40,501.21 354.80,502.66 355.20,504.12 355.60,505.60 356.00,507.07 356.40,508.55 356.80,510.01 357.20,511.47 357.60,512.90 358.00,514.31 358.40,515.69 358.80,517.04 359.20,518.34 359.60,519.60 360.00,520.81 360.40,521.97 360.80,523.07 361.20,524.10 361.60,525.07 362.00,525.97 362.40,526.80 362.80,527.55 363.20,528.21 363.60,528.80 364.00,529.30 364.40,529.72 364.80,530.05 365.20,530.29 365.60,530.44 366.00,530.50 366.40,530.49 366.80,530.47 367.20,530.42 367.60,530.36 368.00,530.28 368.40,530.18 368.80,530.08 369.20,529.96 369.60,529.84 370.00,529.72 370.40,529.60 370.80,529.49 371.20,529.38 371.60,529.29 372.00,529.21 372.40,529.14 372.80,529.09 373.20,529.07 373.60,529.06 374.00,529.07 374.40,529.10 374.80,529.15 375.20,529.22 375.60,529.30" fill="none" stroke="#e8262e" stroke-width="1.05" stroke-dasharray="2.2 0.6"/>
<line x1="316.6" y1="487.70" x2="322.20000000000005" y2="487.70" stroke="#e8343a" stroke-width="0.9" stroke-dasharray="2 1.4"/>
<line x1="351.1" y1="488.10" x2="356.5" y2="488.10" stroke="#333" stroke-width="1.0"/>
<text x="331.60" y="486.60" font-size="3.95" text-anchor="middle" fill="#333" stroke="#333" stroke-width="0.08" >PB</text>
<text x="331.00" y="491.50" font-size="3.95" text-anchor="middle" fill="#333" stroke="#333" stroke-width="0.08" >Metalens</text>
<text x="364.90" y="486.20" font-size="3.95" text-anchor="middle" fill="#333" stroke="#333" stroke-width="0.08" >Diffraction</text>
<text x="365.40" y="490.90" font-size="3.95" text-anchor="middle" fill="#333" stroke="#333" stroke-width="0.08" >Limit</text>
<text x="315.60" y="537.10" font-size="5.9" text-anchor="middle" fill="#1a1a1a" stroke="#1a1a1a" stroke-width="0.16" >−30</text>
<text x="345.60" y="537.10" font-size="5.9" text-anchor="middle" fill="#1a1a1a" stroke="#1a1a1a" stroke-width="0.16" >0</text>
<text x="375.60" y="537.10" font-size="5.9" text-anchor="middle" fill="#1a1a1a" stroke="#1a1a1a" stroke-width="0.16" >30</text>
<text x="345.60" y="544.30" font-size="6.9" text-anchor="middle" fill="#1a1a1a" stroke="#1a1a1a" stroke-width="0.16" >X (μm)</text>
<text x="34.60" y="532.70" font-size="6.0" text-anchor="end" fill="#1a1a1a" stroke="#1a1a1a" stroke-width="0.16" >0.0</text>
<text x="34.60" y="508.65" font-size="6.0" text-anchor="end" fill="#1a1a1a" stroke="#1a1a1a" stroke-width="0.16" >0.5</text>
<text x="34.60" y="484.60" font-size="6.0" text-anchor="end" fill="#1a1a1a" stroke="#1a1a1a" stroke-width="0.16" >1.0</text>
<text transform="translate(22.2 506.05) rotate(-90)" font-size="6.8" text-anchor="middle" fill="#1a1a1a" stroke="#1a1a1a" stroke-width="0.16">Intensity (a.u.)</text>
<rect x="383.3" y="356.3" width="8" height="118.4" fill="url(#cbar)" stroke="#333" stroke-width="0.5"/>
<text x="387.30" y="351.60" font-size="6.5" text-anchor="middle" fill="#1a1a1a" stroke="#1a1a1a" stroke-width="0.16" >1</text>
<text x="387.30" y="484.50" font-size="6.5" text-anchor="middle" fill="#1a1a1a" stroke="#1a1a1a" stroke-width="0.16" >0</text>
<text transform="translate(398.3 411.0) rotate(90)" font-size="6.4" text-anchor="middle" fill="#1a1a1a" stroke="#1a1a1a" stroke-width="0.16">Normalized Intensity (a.u.)</text>
</svg></body></html>
